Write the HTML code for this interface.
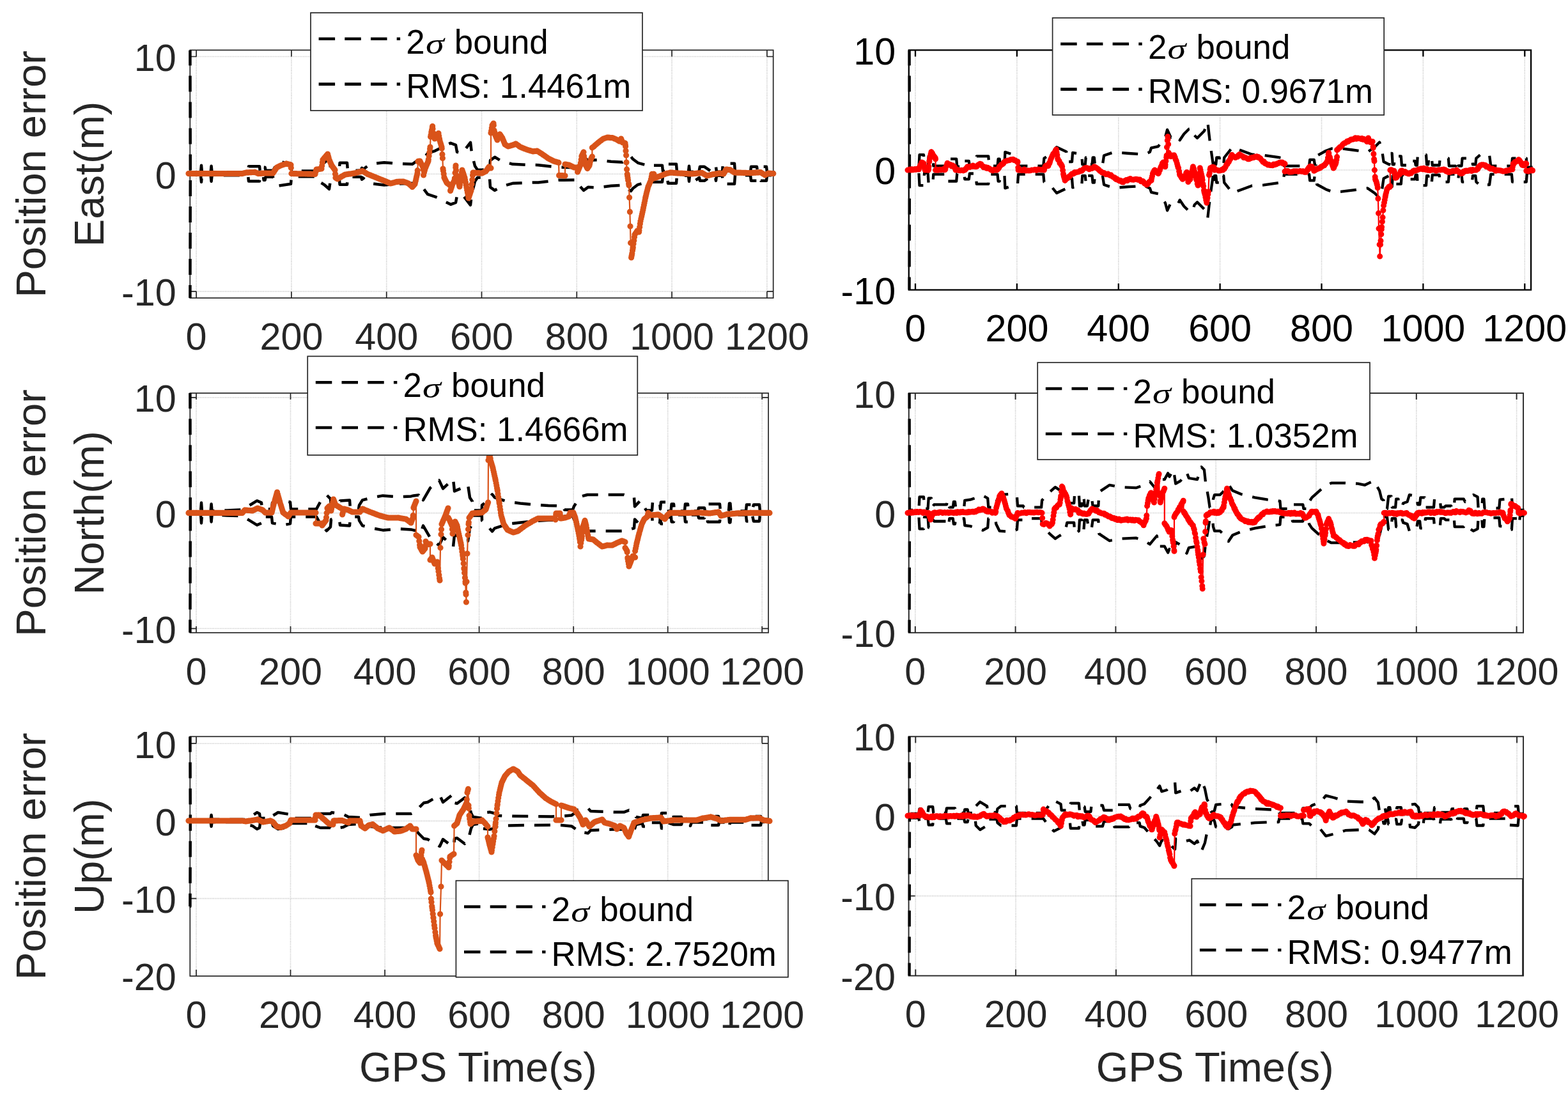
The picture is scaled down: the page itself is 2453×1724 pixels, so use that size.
<!DOCTYPE html>
<html lang="en"><head><meta charset="utf-8"><title>Position error</title>
<style>html,body{margin:0;padding:0;background:#fff}body{width:2453px;height:1724px;overflow:hidden}svg{display:block}text{font-family:"Liberation Sans",Arial,Helvetica,sans-serif}.sg{font-family:"Liberation Serif","DejaVu Serif",serif;font-style:italic}</style></head><body>
<svg width="2453" height="1724" viewBox="0 0 2453 1724">
<rect width="2453" height="1724" fill="#fff"/>
<defs>
<clipPath id="cp1"><rect x="294.3" y="78.4" width="920.4" height="387.8"/></clipPath>
<clipPath id="cp3"><rect x="294.3" y="615" width="912.8" height="374.8"/></clipPath>
<clipPath id="cp5"><rect x="294.3" y="1152.3" width="912.5" height="374.7"/></clipPath>
<clipPath id="cp2"><rect x="1418.8" y="78.4" width="981.3" height="375.1"/></clipPath>
<clipPath id="cp4"><rect x="1418.8" y="615.1" width="969.3" height="374.7"/></clipPath>
<clipPath id="cp6"><rect x="1418.6" y="1152.3" width="969.5" height="374.2"/></clipPath>
</defs>
<g id="p1">
<path d="M307.1 78.4V466.2M455.9 78.4V466.2M604.7 78.4V466.2M753.5 78.4V466.2M902.3 78.4V466.2M1051.1 78.4V466.2M1199.9 78.4V466.2M297.3 88.5H1209.7M297.3 272.2H1209.7M297.3 455.9H1209.7" stroke="#cbcbcb" stroke-width="1.6" stroke-dasharray="1.3 1.3" fill="none"/>
<rect x="297.3" y="78.4" width="912.4" height="387.8" fill="none" stroke="#262626" stroke-width="1.7"/>
<path d="M307.1 466.2v-10 M307.1 78.4v10M455.9 466.2v-10 M455.9 78.4v10M604.7 466.2v-10 M604.7 78.4v10M753.5 466.2v-10 M753.5 78.4v10M902.3 466.2v-10 M902.3 78.4v10M1051.1 466.2v-10 M1051.1 78.4v10M1199.9 466.2v-10 M1199.9 78.4v10M297.3 88.5h10 M1209.7 88.5h-10M297.3 272.2h10 M1209.7 272.2h-10M297.3 455.9h10 M1209.7 455.9h-10" stroke="#262626" stroke-width="1.7" fill="none"/>
<g clip-path="url(#cp1)" fill="none" stroke="#000" stroke-width="4.5" stroke-dasharray="25 16" stroke-linejoin="round"><polyline points="296.6,78.4 297.4,78.4 297.8,269.8 314,269.8 315,258.8 316,269.8 329.6,269.8 330.6,259.8 331.6,269.4 388,269.4 389,260.2 406,260.2 407,269.8 411.6,269.8 412.6,261.8 414.6,261.8 415.6,266.8 427,266.8 435,252.8 455,255.8 456,267.4 495,267.4 499,259.8 507,254.8 515,247.8 517,261.8 531,261.8 531.6,254.8 543,254.8 544,266.8 565,266.8 566,262.8 567,265.8 579,256.8 601,254.2 619,255.8 645,256.8 655,249.8 663,247.8 669,239.8 681,235.8 693,229.8 705,223.8 713,226.8 715,237.8 723,239.8 736,222.8 738,239.8 743,259.8 747,265.8 753.8,265.8 754,265.8 766,264.8 767,250.8 774,245.8 784,251.8 802,256.8 824,257.8 842,258.2 865,260.8 874,261.8 882,261.8 902,262.2 904,255.8 913,245.8 920,250.8 934,250.2 956,252.8 974,253.8 982,247.8 987,244.8 990,248.8 998,254.8 1020,260.8 1022,258.8 1036,258.8 1037,267.8 1044,267.8 1045,256.8 1058,256.8 1059,268.8 1077,268.8 1078,259.8 1079,268.8 1086,268.8 1087,260.8 1094,265.8 1095,260.8 1102,260.8 1112,267.8 1119,267.8 1120,260.8 1121,268.8 1130,268.8 1131,255.8 1149,255.8 1150,269.4 1174,269.4 1175,260.8 1184,260.8 1185,267.8 1190,260.8 1199,260.8 1200,269.4 1212,269.4"/><polyline stroke-dashoffset="4" points="296.6,466.2 297.4,466.2 297.8,273.8 314,273.8 315,284.8 316,273.8 329.6,273.8 330.6,283.8 331.6,274.2 388,274.2 389,283.4 406,283.4 407,273.8 411.6,273.8 412.6,281.8 414.6,281.8 415.6,276.8 427,276.8 435,290.8 455,287.8 456,276.2 495,276.2 499,283.8 507,288.8 515,295.8 517,281.8 531,281.8 531.6,288.8 543,288.8 544,276.8 565,276.8 566,280.8 567,277.8 579,286.8 601,289.4 619,287.8 645,286.8 655,293.8 663,295.8 669,303.8 681,307.8 693,313.8 705,319.8 713,316.8 715,305.8 723,303.8 736,320.8 738,303.8 743,283.8 747,277.8 753.8,277.8 754,277.8 766,278.8 767,292.8 774,297.8 784,291.8 802,286.8 824,285.8 842,285.4 865,282.8 874,281.8 882,281.8 902,281.4 904,287.8 913,297.8 920,292.8 934,293.4 956,290.8 974,289.8 982,295.8 987,298.8 990,294.8 998,288.8 1020,282.8 1022,284.8 1036,284.8 1037,275.8 1044,275.8 1045,286.8 1058,286.8 1059,274.8 1077,274.8 1078,283.8 1079,274.8 1086,274.8 1087,282.8 1094,277.8 1095,282.8 1102,282.8 1112,275.8 1119,275.8 1120,282.8 1121,274.8 1130,274.8 1131,287.8 1149,287.8 1150,274.2 1174,274.2 1175,282.8 1184,282.8 1185,275.8 1190,282.8 1199,282.8 1200,274.2 1212,274.2"/></g>
<polyline fill="none" stroke="#D95319" stroke-width="2.2" stroke-linejoin="round" points="295,271.6 379,271.6 385,270 399,269.4 404,271.6 415,271 427,271 433,262 439,259 448,256 455,258 456,271.6 493,272.4 495,265 503,264 505,250 512.6,241 515,250 519,259 524,266 525,278 528,280 540,273 555,271 567,267.6 575,272.4 589,278 599,282 611,287 621,284.4 631,284 639,287 645,292.4 649,288 653,271 654,252.4 657,252 662,262 662.6,274 665,264 670,252 673,230 673.6,214 675,206 676.6,197.6 678,210 680,217 686,208.6 688,220 691,230 692.4,247.4 693,264 695,278 699,286 704,290 704.6,298.4 708,288 711,282 713,259 714,274 719,292 723,266 727,278 733,310 737,298 740,270 753.8,271 754,271 760,268 765,261 768,263 768,208 770,196 772,193 773,204 775,212 778,219 782,210 786,216 790,226 795,229 802,227 807,225 814,230 824,234 834,237 840,236 848,241 858,248 866,252 874,254.4 874.6,274.4 884,275 884,257 890,258 898,262 903,262 903.6,269 908,258 910,244 913,238 914,248 916,258 919,263.6 922,259 924,250 926.4,245 926.4,231 928,230 936,223 944,217 950,215 958,215.6 964,218 969,221 971.6,217 974,223 978,224 978.6,229 979,236 979.6,243 980,254 980.6,265 981.6,275 982.6,282 984,290 984.6,309 985.4,331.4 986,354 986.6,380 987.6,403 988.4,399 990,389 993,367 997,361 999.6,363 1002,346 1006,328 1010,308 1014,292 1018,283 1020,272.4 1023,272.4 1023,279 1034,275 1042,271.6 1049,270 1062,271 1082,272 1098,270.4 1106,275 1114,273 1126,271 1132,272 1136,265 1142,265.6 1149,270 1174,270.6 1190,269.6 1197,274 1202,271 1209.8,271.6"/>
<path fill="none" stroke="#D95319" stroke-width="9.2" stroke-linecap="round" d="M295 271.6h0M296.9 271.6h0M299.1 271.6h0M301.3 271.6h0M303.6 271.6h0M305.8 271.6h0M308 271.6h0M310.2 271.6h0M312.5 271.6h0M314.7 271.6h0M316.9 271.6h0M319.2 271.6h0M321.4 271.6h0M323.6 271.6h0M325.9 271.6h0M328.1 271.6h0M330.3 271.6h0M332.6 271.6h0M334.8 271.6h0M337 271.6h0M339.3 271.6h0M341.5 271.6h0M343.7 271.6h0M346 271.6h0M348.2 271.6h0M350.4 271.6h0M352.7 271.6h0M354.9 271.6h0M357.1 271.6h0M359.4 271.6h0M361.6 271.6h0M363.8 271.6h0M366 271.6h0M368.3 271.6h0M370.5 271.6h0M372.7 271.6h0M375 271.6h0M377.2 271.6h0M379 271.6h0M380.9 271.1h0M382.4 270.7h0M383.9 270.3h0M385 270h0M386.9 269.9h0M389.1 269.8h0M391.3 269.7h0M393.6 269.6h0M395.8 269.5h0M398 269.4h0M399 269.4h0M400.3 270h0M401.8 270.6h0M403.2 271.3h0M404 271.6h0M406.2 271.5h0M408.5 271.4h0M410.7 271.2h0M412.9 271.1h0M415 271h0M416.6 271h0M418.9 271h0M421.1 271h0M423.3 271h0M425.6 271h0M427 271h0M427.8 269.8h0M428.5 268.7h0M429.3 267.6h0M430 266.5h0M430.8 265.3h0M431.5 264.2h0M432.3 263.1h0M433 262h0M434.5 261.3h0M436 260.5h0M437.5 259.8h0M439 259h0M439 259h0M440.4 258.5h0M441.9 258h0M443.4 257.5h0M444.9 257h0M446.4 256.5h0M447.9 256h0M448 256h0M449.4 256.4h0M450.9 256.8h0M452.4 257.2h0M453.8 257.7h0M455 258h0M455.3 262.5h0M456 271.6h0M458.3 271.6h0M460.5 271.7h0M462.8 271.7h0M465 271.8h0M467.2 271.8h0M469.5 271.9h0M471.7 271.9h0M473.9 272h0M476.2 272h0M478.4 272.1h0M480.6 272.1h0M482.9 272.2h0M485.1 272.2h0M487.3 272.3h0M489.6 272.3h0M491.8 272.4h0M493 272.4h0M494 268.6h0M494.8 265.9h0M495 265h0M497 264.8h0M498.5 264.6h0M500 264.4h0M501.5 264.2h0M502.9 264h0M503 264h0M503.7 259.2h0M504.4 254h0M505 250h0M505.9 248.9h0M506.7 248h0M507.4 247.1h0M508.2 246.3h0M508.9 245.4h0M509.6 244.5h0M510.4 243.6h0M511.1 242.7h0M511.9 241.9h0M512.6 241h0M513.4 243.9h0M514.1 246.6h0M514.8 249.4h0M515 250h0M515.6 251.3h0M516.3 253h0M517.1 254.7h0M517.8 256.4h0M518.6 258h0M519 259h0M520.1 260.5h0M520.8 261.5h0M521.5 262.6h0M522.3 263.6h0M523 264.6h0M523.8 265.7h0M524 266h0M524.5 272.2h0M525 278h0M526 278.7h0M527.5 279.7h0M528 280h0M529.7 279h0M531.2 278.1h0M532.7 277.3h0M534.2 276.4h0M535.7 275.5h0M537.2 274.7h0M538.7 273.8h0M540 273h0M541.6 272.8h0M543.1 272.6h0M544.6 272.4h0M546.1 272.2h0M547.6 272h0M549.1 271.8h0M550.6 271.6h0M552 271.4h0M553.5 271.2h0M555 271h0M556.5 270.6h0M558 270.1h0M559.5 269.7h0M561 269.3h0M562.5 268.9h0M564 268.5h0M565.4 268h0M566.9 267.6h0M567 267.6h0M568.4 268.4h0M569.9 269.3h0M571.4 270.2h0M572.9 271.1h0M574.4 272h0M575 272.4h0M576.6 273h0M578.1 273.6h0M579.6 274.2h0M581.1 274.8h0M582.6 275.4h0M584 276h0M585.5 276.6h0M587 277.2h0M588.5 277.8h0M589 278h0M590.7 278.7h0M592.2 279.3h0M593.7 279.9h0M595.2 280.5h0M596.7 281.1h0M598.2 281.7h0M599 282h0M600.4 282.6h0M601.9 283.2h0M603.4 283.8h0M604.9 284.4h0M606.4 285.1h0M607.8 285.7h0M609.3 286.3h0M610.8 286.9h0M611 287h0M612.3 286.7h0M613.8 286.3h0M615.3 285.9h0M616.8 285.5h0M618.3 285.1h0M619.8 284.7h0M621 284.4h0M622.7 284.3h0M625 284.2h0M627.2 284.2h0M629.4 284.1h0M631 284h0M632.4 284.5h0M633.9 285.1h0M635.4 285.6h0M636.9 286.2h0M638.4 286.8h0M639 287h0M640.6 288.4h0M642.1 289.8h0M643.6 291.1h0M645 292.4h0M645.8 291.5h0M647.3 289.9h0M648.8 288.3h0M649 288h0M649.5 285.8h0M650.3 282.7h0M651 279.5h0M651.7 276.3h0M652.5 273.2h0M653 271h0M653.2 266.7h0M654 252.8h0M654 252.4h0M655.5 252.2h0M657 252h0M657 252h0M657.7 253.4h0M658.4 254.9h0M659.2 256.4h0M659.9 257.9h0M660.7 259.3h0M661.4 260.8h0M662 262h0M662.2 265.2h0M662.6 274h0M663.6 269.6h0M664.4 266.5h0M665 264h0M665.9 261.9h0M666.6 260.1h0M667.4 258.3h0M668.1 256.5h0M668.9 254.7h0M669.6 253h0M670 252h0M670.3 249.5h0M671.1 244h0M671.8 238.6h0M672.6 233.1h0M673 230h0M673.6 214h0M674.1 211.3h0M674.8 207.1h0M675 206h0M675.6 203.1h0M676.3 199.2h0M676.6 197.6h0M677 201.5h0M677.8 208.1h0M678 210h0M678.5 211.8h0M679.3 214.5h0M680 217h0M680.8 215.9h0M681.5 214.9h0M682.2 213.9h0M683 212.8h0M683.7 211.8h0M684.5 210.7h0M685.2 209.7h0M686 208.6h0M686 208.6h0M686.7 212.7h0M687.5 216.9h0M688 220h0M688.9 223.1h0M689.7 225.6h0M690.4 228.1h0M691 230h0M691.2 232.2h0M691.9 241.4h0M692.4 247.4h0M693 264h0M693.4 266.9h0M694.2 272.1h0M694.9 277.3h0M695 278h0M695.6 279.3h0M696.4 280.8h0M697.1 282.3h0M697.9 283.7h0M698.6 285.2h0M699 286h0M700.1 286.9h0M701.6 288.1h0M703.1 289.3h0M704 290h0M704.6 298h0M704.6 298.4h0M705.3 296.2h0M706.1 293.9h0M706.8 291.7h0M707.5 289.4h0M708 288h0M709 285.9h0M709.8 284.4h0M710.5 283h0M711 282h0M711.3 279h0M712 270.4h0M712.8 261.9h0M713 259h0M713.5 266.4h0M714 274h0M715 277.5h0M715.7 280.2h0M716.5 282.9h0M717.2 285.6h0M718 288.3h0M718.7 290.9h0M719 292h0M719.4 289.1h0M720.2 284.3h0M720.9 279.4h0M721.7 274.6h0M722.4 269.7h0M723 266h0M723.9 268.7h0M724.7 271h0M725.4 273.2h0M726.1 275.4h0M726.9 277.7h0M727 278h0M727.6 281.4h0M728.4 285.3h0M729.1 289.3h0M729.9 293.3h0M730.6 297.2h0M731.4 301.2h0M732.1 305.2h0M732.8 309.1h0M733 310h0M733.6 308.2h0M734.3 306h0M735.1 303.8h0M735.8 301.6h0M736.6 299.3h0M737 298h0M737.3 295.2h0M738 288.2h0M738.8 281.3h0M739.5 274.3h0M740 270h0M741.8 270.1h0M744 270.3h0M746.2 270.5h0M748.5 270.6h0M750.7 270.8h0M752.9 270.9h0M753.8 271h0M754 271h0M755.2 270.4h0M756.6 269.7h0M758.1 268.9h0M759.6 268.2h0M760 268h0M761.1 266.4h0M761.9 265.4h0M762.6 264.4h0M763.3 263.3h0M764.1 262.3h0M764.8 261.2h0M765 261h0M766.3 261.9h0M767.8 262.9h0M768 263h0M768 208h0M768.6 204.7h0M769.3 200.2h0M770 196h0M770.8 194.8h0M771.5 193.7h0M772 193h0M772.3 196h0M773 204h0M773.8 207h0M774.5 210h0M775 212h0M776 214.3h0M776.7 216.1h0M777.5 217.8h0M778 219h0M779 216.8h0M779.7 215.1h0M780.5 213.5h0M781.2 211.8h0M781.9 210.1h0M782 210h0M782.7 211h0M783.4 212.1h0M784.2 213.3h0M784.9 214.4h0M785.7 215.5h0M786 216h0M787.2 218.9h0M787.9 220.7h0M788.6 222.6h0M789.4 224.5h0M790 226h0M791.6 227h0M793.1 227.9h0M794.6 228.8h0M795 229h0M796.8 228.5h0M798.3 228.1h0M799.8 227.6h0M801.3 227.2h0M802 227h0M803.5 226.4h0M805 225.8h0M806.5 225.2h0M807 225h0M808 225.7h0M809.5 226.8h0M811 227.8h0M812.4 228.9h0M813.9 230h0M814 230h0M815.4 230.6h0M816.9 231.2h0M818.4 231.8h0M819.9 232.4h0M821.4 233h0M822.9 233.5h0M824 234h0M825.8 234.6h0M827.3 235h0M828.8 235.4h0M830.3 235.9h0M831.8 236.3h0M833.3 236.8h0M834 237h0M835.5 236.7h0M837 236.5h0M838.5 236.3h0M840 236h0M840 236h0M841.5 236.9h0M843 237.8h0M844.4 238.8h0M845.9 239.7h0M847.4 240.6h0M848 241h0M849.6 242.2h0M851.1 243.2h0M852.6 244.2h0M854.1 245.3h0M855.6 246.3h0M857.1 247.4h0M858 248h0M859.3 248.7h0M860.8 249.4h0M862.3 250.1h0M863.8 250.9h0M865.3 251.6h0M866 252h0M867.5 252.5h0M869 252.9h0M870.5 253.3h0M872 253.8h0M873.5 254.2h0M874 254.4h0M874.6 274.4h0M876.4 274.5h0M878.7 274.7h0M880.9 274.8h0M883.1 274.9h0M884 275h0M884 257h0M886.1 257.4h0M887.6 257.6h0M889.1 257.8h0M890 258h0M891.3 258.7h0M892.8 259.4h0M894.3 260.1h0M895.8 260.9h0M897.3 261.6h0M898 262h0M900.2 262h0M902.5 262h0M903 262h0M903.2 264.5h0M903.6 269h0M904.7 266.2h0M905.4 264.4h0M906.2 262.5h0M906.9 260.7h0M907.7 258.8h0M908 258h0M908.4 255h0M909.2 249.8h0M909.9 244.6h0M910 244h0M910.7 242.7h0M911.4 241.2h0M912.1 239.7h0M912.9 238.2h0M913 238h0M913.6 244.3h0M914 248h0M914.4 249.9h0M915.1 253.6h0M915.9 257.3h0M916 258h0M916.6 259.1h0M917.4 260.5h0M918.1 261.9h0M918.8 263.3h0M919 263.6h0M920.3 261.6h0M921.1 260.4h0M921.8 259.3h0M922 259h0M922.6 256.5h0M923.3 253.1h0M924 250h0M924.8 248.3h0M925.5 246.8h0M926.3 245.2h0M926.4 245h0M926.4 231h0M927.8 230.1h0M928 230h0M929.3 228.9h0M930.7 227.6h0M932.2 226.3h0M933.7 225h0M935.2 223.7h0M936 223h0M937.4 221.9h0M938.9 220.8h0M940.4 219.7h0M941.9 218.6h0M943.4 217.5h0M944 217h0M945.6 216.5h0M947.1 216h0M948.6 215.5h0M950 215h0M951.6 215.1h0M953.8 215.3h0M956 215.5h0M958 215.6h0M959.8 216.3h0M961.2 216.9h0M962.7 217.5h0M964 218h0M965.7 219h0M967.2 219.9h0M968.7 220.8h0M969 221h0M970.2 219.2h0M970.9 218h0M971.6 217h0M972.4 219h0M973.2 220.9h0M973.9 222.7h0M974 223h0M975.4 223.3h0M976.9 223.7h0M978 224h0M978.4 227h0M978.6 229h0M979 236h0M979.6 243h0M980 254h0M980.6 264.9h0M980.6 265h0M981.3 272.4h0M981.6 275h0M982.1 278.4h0M982.6 282h0M983.6 287.5h0M984 290h0M984.6 309h0M985.4 331.4h0M986 354h0M986.6 380h0M987.6 403h0M988 400.8h0M988.4 399h0M988.8 396.6h0M989.5 392h0M990 389h0M990.3 387.1h0M991 381.6h0M991.8 376.2h0M992.5 370.7h0M993 367h0M994 365.5h0M994.7 364.4h0M995.5 363.3h0M996.2 362.2h0M997 361.1h0M997 361h0M998.4 362.1h0M999.6 363h0M999.9 360.6h0M1000.7 355.3h0M1001.4 350.1h0M1002 346h0M1002.9 341.9h0M1003.7 338.5h0M1004.4 335.2h0M1005.1 331.9h0M1005.9 328.5h0M1006 328h0M1006.6 324.8h0M1007.4 321.1h0M1008.1 317.4h0M1008.9 313.7h0M1009.6 310h0M1010 308h0M1010.4 306.6h0M1011.1 303.6h0M1011.8 300.6h0M1012.6 297.7h0M1013.3 294.7h0M1014 292h0M1014.8 290.2h0M1015.6 288.5h0M1016.3 286.8h0M1017 285.1h0M1017.8 283.5h0M1018 283h0M1018.5 280.2h0M1019.3 276.2h0M1020 272.4h0M1022.3 272.4h0M1023 272.4h0M1023 279h0M1024.5 278.5h0M1026 277.9h0M1027.5 277.4h0M1029 276.8h0M1030.4 276.3h0M1031.9 275.8h0M1033.4 275.2h0M1034 275h0M1035.6 274.3h0M1037.1 273.7h0M1038.6 273h0M1040.1 272.4h0M1041.6 271.8h0M1042 271.6h0M1043.8 271.2h0M1045.3 270.8h0M1046.8 270.5h0M1048.3 270.2h0M1049 270h0M1050.5 270.1h0M1052 270.2h0M1053.5 270.3h0M1055 270.5h0M1056.5 270.6h0M1058 270.7h0M1059.5 270.8h0M1060.9 270.9h0M1062 271h0M1063.9 271.1h0M1066.2 271.2h0M1068.4 271.3h0M1070.6 271.4h0M1072.8 271.5h0M1075.1 271.7h0M1077.3 271.8h0M1079.5 271.9h0M1081.8 272h0M1082 272h0M1084 271.8h0M1085.5 271.7h0M1087 271.5h0M1088.5 271.4h0M1090 271.2h0M1091.4 271.1h0M1092.9 270.9h0M1094.4 270.8h0M1095.9 270.6h0M1097.4 270.5h0M1098 270.4h0M1099.6 271.3h0M1101.1 272.2h0M1102.6 273h0M1104.1 273.9h0M1105.6 274.8h0M1106 275h0M1107.8 274.5h0M1109.3 274.2h0M1110.8 273.8h0M1112.3 273.4h0M1113.8 273.1h0M1114 273h0M1116 272.7h0M1117.5 272.4h0M1119 272.2h0M1120.5 271.9h0M1122 271.7h0M1123.4 271.4h0M1124.9 271.2h0M1126 271h0M1127.9 271.3h0M1129.4 271.6h0M1130.9 271.8h0M1132 272h0M1133.1 270.1h0M1133.9 268.8h0M1134.6 267.4h0M1135.3 266.1h0M1136 265h0M1137.6 265.2h0M1139.1 265.3h0M1140.6 265.5h0M1142 265.6h0M1143.5 266.6h0M1145 267.5h0M1146.5 268.4h0M1148 269.4h0M1149 270h0M1151 270h0M1153.2 270.1h0M1155.4 270.2h0M1157.7 270.2h0M1159.9 270.3h0M1162.1 270.3h0M1164.4 270.4h0M1166.6 270.4h0M1168.8 270.5h0M1171.1 270.5h0M1173.3 270.6h0M1174 270.6h0M1175.5 270.5h0M1177.8 270.4h0M1180 270.2h0M1182.2 270.1h0M1184.4 269.9h0M1186.7 269.8h0M1188.9 269.7h0M1190 269.6h0M1191.1 270.3h0M1192.6 271.3h0M1194.1 272.2h0M1195.6 273.1h0M1197 274h0M1198.6 273h0M1200.1 272.2h0M1201.6 271.3h0M1202 271h0M1203.8 271.1h0M1205.3 271.3h0M1206.8 271.4h0M1208.3 271.5h0M1209.7 271.6h0M1209.8 271.6h0"/>
<g font-size="59.3" fill="#262626">
<text x="307.1" y="546.9" text-anchor="middle">0</text>
<text x="455.9" y="546.9" text-anchor="middle">200</text>
<text x="604.7" y="546.9" text-anchor="middle">400</text>
<text x="753.5" y="546.9" text-anchor="middle">600</text>
<text x="902.3" y="546.9" text-anchor="middle">800</text>
<text x="1051.1" y="546.9" text-anchor="middle">1000</text>
<text x="1199.9" y="546.9" text-anchor="middle">1200</text>
<text x="275.8" y="110.8" text-anchor="end">10</text>
<text x="275.8" y="294.5" text-anchor="end">0</text>
<text x="275.8" y="478.2" text-anchor="end">-10</text>
</g>
<text transform="translate(71.4 272.3) rotate(-90)" font-size="65" fill="#262626" text-anchor="middle">Position error</text>
<text transform="translate(162.2 272.3) rotate(-90)" font-size="65" fill="#262626" text-anchor="middle">East(m)</text>
<rect x="486" y="20" width="519" height="153" fill="#fff" stroke="#262626" stroke-width="1.7"/>
<path d="M498.6 60.8h127.5" stroke="#000" stroke-width="4.6" stroke-dasharray="25.5 15.2" fill="none"/>
<text x="635.3" y="83.6" font-size="52.8" fill="#000">2<tspan class="sg" font-size="46" dx="1.2" dy="0.6" textLength="28.8" lengthAdjust="spacingAndGlyphs">σ</tspan><tspan dx="1.5" dy="-0.6"> bound</tspan></text>
<path d="M498.6 131.6h127.5" stroke="#000" stroke-width="4.6" stroke-dasharray="25.5 15.2" fill="none"/>
<text x="635.2" y="153" font-size="52.8" fill="#000">RMS: 1.4461m</text>
</g>
<g id="p3">
<path d="M307 615V989.8M454.5 615V989.8M602.1 615V989.8M749.6 615V989.8M897.2 615V989.8M1044.7 615V989.8M1192.2 615V989.8M297.3 621.9H1202.1M297.3 802.6H1202.1M297.3 983.3H1202.1" stroke="#cbcbcb" stroke-width="1.6" stroke-dasharray="1.3 1.3" fill="none"/>
<rect x="297.3" y="615" width="904.8" height="374.8" fill="none" stroke="#262626" stroke-width="1.7"/>
<path d="M307 989.8v-10 M307 615v10M454.5 989.8v-10 M454.5 615v10M602.1 989.8v-10 M602.1 615v10M749.6 989.8v-10 M749.6 615v10M897.2 989.8v-10 M897.2 615v10M1044.7 989.8v-10 M1044.7 615v10M1192.2 989.8v-10 M1192.2 615v10M297.3 621.9h10 M1202.1 621.9h-10M297.3 802.6h10 M1202.1 802.6h-10M297.3 983.3h10 M1202.1 983.3h-10" stroke="#262626" stroke-width="1.7" fill="none"/>
<g clip-path="url(#cp3)" fill="none" stroke="#000" stroke-width="4.5" stroke-dasharray="25 16" stroke-linejoin="round"><polyline points="296.6,615 297.4,615 297.8,800.4 314,800.4 315,786.4 316,800.4 329.6,800.4 330.6,788.4 331.6,799.4 355,798.4 379,797.4 389,791.4 402,783.4 409,786.4 410,796.4 425,796.4 426,786.4 443,783.4 454,785.4 455,796.4 469,796.4 495,796.4 501,785.4 511,774.4 517,780.4 518,792.4 531,792.4 532,783.4 547,782.4 548,796.4 561,796.4 562,790.4 567,782.4 583,778.4 599,775.4 623,777.4 643,776.4 647,775.4 655,774.4 657,780.4 660,776.4 662,782.4 673,763.4 687,751.4 693,764.4 709,749.4 711,768.4 725,762.4 732,758.4 735,778.4 739,784.4 739.4,798.4 753.8,798.4 754,790.4 758,787.4 770,773.4 774,778.4 794,784.8 814,787.4 834,789.4 858,791 882,791.4 883,797.4 896,797.4 898,792 908,777 919,774 976,774 984,776.4 992,778.4 993,792.4 1002,783 1011,798.4 1020,798.4 1021,785.4 1032,785.4 1033,796.4 1034,785.4 1045,785.4 1046,799.4 1049.6,799.4 1050.6,788.4 1054,788.4 1055,799.4 1071,799.4 1072,788.4 1076,788.4 1077,799.4 1092,799.4 1093,794.4 1102,794.4 1103,799.4 1106,799.4 1107,788.4 1126,788.4 1127,799.4 1140,799.4 1141,787.4 1142.4,787.4 1143.4,799.4 1167,799.4 1168,789.4 1176,789.4 1177,798.4 1179,789.4 1188,789.4 1189,800 1204,800"/><polyline stroke-dashoffset="4" points="296.6,989.8 297.4,989.8 297.8,804.4 314,804.4 315,818.4 316,804.4 329.6,804.4 330.6,816.4 331.6,805.4 355,806.4 379,807.4 389,813.4 402,821.4 409,818.4 410,808.4 425,808.4 426,818.4 443,821.4 454,819.4 455,808.4 469,808.4 495,808.4 501,819.4 511,830.4 517,824.4 518,812.4 531,812.4 532,821.4 547,822.4 548,808.4 561,808.4 562,814.4 567,822.4 583,826.4 599,829.4 623,827.4 643,828.4 647,829.4 655,830.4 657,824.4 660,828.4 662,822.4 673,841.4 687,853.4 693,840.4 709,855.4 711,836.4 725,842.4 732,846.4 735,826.4 739,820.4 739.4,806.4 753.8,806.4 754,814.4 758,817.4 770,831.4 774,826.4 794,820 814,817.4 834,815.4 858,813.8 882,813.4 883,807.4 896,807.4 898,812.8 908,827.8 919,830.8 976,830.8 984,828.4 992,826.4 993,812.4 1002,821.8 1011,806.4 1020,806.4 1021,819.4 1032,819.4 1033,808.4 1034,819.4 1045,819.4 1046,805.4 1049.6,805.4 1050.6,816.4 1054,816.4 1055,805.4 1071,805.4 1072,816.4 1076,816.4 1077,805.4 1092,805.4 1093,810.4 1102,810.4 1103,805.4 1106,805.4 1107,816.4 1126,816.4 1127,805.4 1140,805.4 1141,817.4 1142.4,817.4 1143.4,805.4 1167,805.4 1168,815.4 1176,815.4 1177,806.4 1179,815.4 1188,815.4 1189,804.8 1204,804.8"/></g>
<polyline fill="none" stroke="#D95319" stroke-width="2.2" stroke-linejoin="round" points="295,802.4 379,802.4 383,798 395,799 403,795 411,798 415,802 425,802 429,786 433.6,770 438,786 443,802 451,808 455,802 494,802 494,819 503,819 504,822 510,814 512,795 515,792 518,799 521.6,781 525,790 535,796 535.6,805 538,796 545,798 551,801 563,801 567,796 579,801 595,807 607,810 623,810 635,812 643,818 646,810 647,794 651,784 651,837 655,840 657,856 661,863 665,858 666,847 669,852 673,851 673,876 676,872 680,882 684,879 686,894 688,908 689,857 690,836 691,820 697,806 701,795 701.4,810 703,813 707,822 708,835 712,816 715,822 717,832 721,850 724,870 726,890 728,910 729,930 729.4,942 730,910 731,866 732,837 733,820 734,810 739,803 753.8,802 754,802 760,797 763.6,786 764,720 766,710 768,722 771,732 775,750 778,766 781,786 784,806 788,820 794,829 803,833 810,831 822,822 834,815 842,811 866,811 869,813 870,803 876,803 877,811 884,810 890,808 892,802 897,802 900,810 904,828 907,844 908,855 910,842 912,824 915,814.4 917,822 919,834 921,843 928,844 934,849 942,855 950,853 958,853 966,849 973,846 978,848 978,857 981,862 982,874 984,886 987,878 990,870 993.6,872 993.6,862 996,850 1000,834 1004,820 1008,812 1013,808 1014,802.4 1018,806 1030,805 1040,812 1044,806 1048,802.4 1074,802.4 1094,802 1110,803 1124,801 1128,807 1138,804.4 1154,803 1174,802.4 1204,802.4"/>
<path fill="none" stroke="#D95319" stroke-width="9.2" stroke-linecap="round" d="M295 802.4h0M297.3 802.4h0M299.5 802.4h0M301.7 802.4h0M303.9 802.4h0M306.1 802.4h0M308.4 802.4h0M310.6 802.4h0M312.8 802.4h0M315 802.4h0M317.2 802.4h0M319.4 802.4h0M321.6 802.4h0M323.9 802.4h0M326.1 802.4h0M328.3 802.4h0M330.5 802.4h0M332.7 802.4h0M334.9 802.4h0M337.1 802.4h0M339.3 802.4h0M341.6 802.4h0M343.8 802.4h0M346 802.4h0M348.2 802.4h0M350.4 802.4h0M352.6 802.4h0M354.8 802.4h0M357 802.4h0M359.3 802.4h0M361.5 802.4h0M363.7 802.4h0M365.9 802.4h0M368.1 802.4h0M370.3 802.4h0M372.5 802.4h0M374.8 802.4h0M377 802.4h0M379 802.4h0M379.9 801.4h0M381.4 799.8h0M382.9 798.1h0M383 798h0M385.1 798.2h0M387.3 798.4h0M389.5 798.5h0M391.7 798.7h0M393.9 798.9h0M395 799h0M396.1 798.4h0M397.6 797.7h0M399.1 797h0M400.6 796.2h0M402 795.5h0M403 795h0M404.3 795.5h0M405.7 796h0M407.2 796.6h0M408.7 797.1h0M410.2 797.7h0M411 798h0M412.4 799.4h0M413.8 800.8h0M415 802h0M416.8 802h0M419 802h0M421.2 802h0M423.4 802h0M425 802h0M425.7 799.4h0M426.4 796.4h0M427.1 793.5h0M427.9 790.5h0M428.6 787.6h0M429 786h0M430.1 782.2h0M430.8 779.7h0M431.6 777.1h0M432.3 774.5h0M433 772h0M433.6 770h0M434.5 773.3h0M435.2 776h0M436 778.7h0M436.7 781.3h0M437.5 784h0M438 786h0M438.9 789h0M439.7 791.3h0M440.4 793.7h0M441.1 796.1h0M441.9 798.4h0M442.6 800.8h0M443 802h0M444.1 802.8h0M445.6 803.9h0M447 805h0M448.5 806.1h0M450 807.2h0M451 808h0M452.2 806.2h0M452.9 805.1h0M453.7 804h0M454.4 802.9h0M455 802h0M456.6 802h0M458.8 802h0M461.1 802h0M463.3 802h0M465.5 802h0M467.7 802h0M469.9 802h0M472.1 802h0M474.3 802h0M476.6 802h0M478.8 802h0M481 802h0M483.2 802h0M485.4 802h0M487.6 802h0M489.8 802h0M492 802h0M494 802h0M494 819h0M495.7 819h0M497.9 819h0M500.2 819h0M502.4 819h0M503 819h0M503.8 821.5h0M504 822h0M505.3 820.2h0M506.1 819.3h0M506.8 818.3h0M507.5 817.3h0M508.3 816.3h0M509 815.3h0M509.8 814.3h0M510 814h0M510.5 809.4h0M511.2 802.4h0M512 795.3h0M512 795h0M513.4 793.6h0M514.9 792.1h0M515 792h0M515.7 793.5h0M516.4 795.2h0M517.1 797h0M517.9 798.7h0M518 799h0M518.6 796h0M519.3 792.3h0M520.1 788.6h0M520.8 784.9h0M521.6 781.2h0M521.6 781h0M522.3 782.8h0M523 784.8h0M523.8 786.7h0M524.5 788.7h0M525 790h0M526.7 791h0M528.2 791.9h0M529.7 792.8h0M531.1 793.7h0M532.6 794.6h0M534.1 795.5h0M535 796h0M535.6 804.6h0M535.6 805h0M536.3 802.3h0M537 799.6h0M537.8 796.8h0M538 796h0M539.3 796.4h0M540.7 796.8h0M542.2 797.2h0M543.7 797.6h0M545 798h0M546.6 798.8h0M548.1 799.6h0M549.6 800.3h0M551 801h0M553.3 801h0M555.5 801h0M557.7 801h0M559.9 801h0M562.1 801h0M563 801h0M564.3 799.3h0M565.1 798.4h0M565.8 797.5h0M566.6 796.6h0M567 796h0M568.8 796.7h0M570.2 797.4h0M571.7 798h0M573.2 798.6h0M574.7 799.2h0M576.1 799.8h0M577.6 800.4h0M579 801h0M580.6 801.6h0M582 802.1h0M583.5 802.7h0M585 803.2h0M586.5 803.8h0M587.9 804.4h0M589.4 804.9h0M590.9 805.5h0M592.4 806h0M593.8 806.6h0M595 807h0M596.8 807.4h0M598.3 807.8h0M599.8 808.2h0M601.2 808.6h0M602.7 808.9h0M604.2 809.3h0M605.7 809.7h0M607 810h0M608.6 810h0M610.8 810h0M613 810h0M615.2 810h0M617.5 810h0M619.7 810h0M621.9 810h0M623 810h0M624.8 810.3h0M626.3 810.6h0M627.8 810.8h0M629.3 811h0M630.7 811.3h0M632.2 811.5h0M633.7 811.8h0M635 812h0M636.6 813.2h0M638.1 814.3h0M639.6 815.4h0M641.1 816.5h0M642.5 817.7h0M643 818h0M644 815.3h0M644.7 813.3h0M645.5 811.4h0M646 810h0M646.2 806.4h0M647 794.6h0M647 794h0M647.7 792.2h0M648.4 790.4h0M649.2 788.6h0M649.9 786.7h0M650.7 784.9h0M651 784h0M651 837h0M652.1 837.8h0M653.6 839h0M655 840h0M655.8 846.5h0M656.6 852.4h0M657 856h0M658 857.8h0M658.8 859.1h0M659.5 860.4h0M660.2 861.7h0M661 863h0M661 863h0M661.7 862.1h0M662.5 861.2h0M663.2 860.3h0M663.9 859.3h0M664.7 858.4h0M665 858h0M665.4 853.5h0M666 847h0M666.9 848.5h0M667.6 849.7h0M668.4 850.9h0M669 852h0M670.6 851.6h0M672 851.2h0M673 851h0M673 876h0M674.3 874.3h0M675 873.3h0M675.7 872.4h0M676 872h0M676.5 873.2h0M677.2 875h0M677.9 876.9h0M678.7 878.7h0M679.4 880.6h0M680 882h0M681.6 880.8h0M683.1 879.7h0M684 879h0M684.6 883.4h0M685.3 888.9h0M686 894h0M686.8 899.6h0M687.5 904.8h0M688 908h0M689 857h0M690 836h0M690.5 828.2h0M691 820h0M692 817.8h0M692.7 816h0M693.4 814.3h0M694.2 812.6h0M694.9 810.9h0M695.7 809.1h0M696.4 807.4h0M697 806h0M697.9 803.6h0M698.6 801.6h0M699.3 799.6h0M700.1 797.5h0M700.8 795.5h0M701 795h0M701.4 810h0M702.3 811.7h0M703 813h0M703.8 814.7h0M704.5 816.4h0M705.2 818h0M706 819.7h0M706.7 821.4h0M707 822h0M707.5 827.9h0M708 835h0M708.9 830.6h0M709.7 827.1h0M710.4 823.6h0M711.1 820.1h0M711.9 816.6h0M712 816h0M712.6 817.2h0M713.4 818.7h0M714.1 820.2h0M714.8 821.7h0M715 822h0M715.6 824.8h0M716.3 828.5h0M717 832h0M717.8 835.5h0M718.5 838.8h0M719.3 842.2h0M720 845.5h0M720.7 848.8h0M721 850h0M721.5 853.1h0M722.2 858.1h0M722.9 863h0M723.7 867.9h0M724 870h0M724.4 874.2h0M725.2 881.6h0M725.9 889h0M726 890h0M726.6 896.3h0M727.4 903.7h0M728 910h0M728.1 912.2h0M728.8 927h0M729 930h0M729.4 942h0M730 910h0M731 866h0M732 837h0M732.5 827.9h0M733 820h0M733.3 817.3h0M734 810h0M734.7 809h0M735.5 807.9h0M736.2 806.9h0M737 805.9h0M737.7 804.8h0M738.4 803.8h0M739 803h0M740.7 802.9h0M742.9 802.7h0M745.1 802.6h0M747.3 802.4h0M749.5 802.3h0M751.7 802.1h0M753.8 802h0M754 802h0M755.4 800.8h0M756.9 799.6h0M758.4 798.4h0M759.8 797.1h0M760 797h0M760.6 795.3h0M761.3 793h0M762 790.8h0M762.8 788.5h0M763.5 786.2h0M763.6 786h0M764 720h0M765 715h0M765.7 711.3h0M766 710h0M766.5 712.8h0M767.2 717.2h0M767.9 721.7h0M768 722h0M768.7 724.3h0M769.4 726.7h0M770.2 729.2h0M770.9 731.7h0M771 732h0M771.6 734.9h0M772.4 738.2h0M773.1 741.5h0M773.8 744.8h0M774.6 748.1h0M775 750h0M775.3 751.7h0M776.1 755.7h0M776.8 759.6h0M777.5 763.5h0M778 766h0M778.3 767.8h0M779 772.7h0M779.7 777.7h0M780.5 782.6h0M781 786h0M781.2 787.5h0M782 792.4h0M782.7 797.3h0M783.4 802.2h0M784 806h0M784.9 809.2h0M785.7 811.8h0M786.4 814.4h0M787.1 816.9h0M787.9 819.5h0M788 820h0M789.3 822h0M790.1 823.1h0M790.8 824.2h0M791.6 825.3h0M792.3 826.4h0M793 827.5h0M793.8 828.6h0M794 829h0M795.2 829.6h0M796.7 830.2h0M798.2 830.9h0M799.7 831.5h0M801.1 832.2h0M802.6 832.8h0M803 833h0M804.8 832.5h0M806.3 832.1h0M807.8 831.6h0M809.3 831.2h0M810 831h0M811.5 829.9h0M812.9 828.8h0M814.4 827.7h0M815.9 826.6h0M817.4 825.5h0M818.8 824.4h0M820.3 823.3h0M821.8 822.2h0M822 822h0M823.3 821.3h0M824.7 820.4h0M826.2 819.5h0M827.7 818.7h0M829.2 817.8h0M830.7 817h0M832.1 816.1h0M833.6 815.2h0M834 815h0M835.1 814.5h0M836.6 813.7h0M838 813h0M839.5 812.2h0M841 811.5h0M842 811h0M843.9 811h0M846.1 811h0M848.4 811h0M850.6 811h0M852.8 811h0M855 811h0M857.2 811h0M859.4 811h0M861.6 811h0M863.8 811h0M866 811h0M867.5 812h0M869 813h0M869.7 805.5h0M870 803h0M872 803h0M874.2 803h0M876 803h0M876.4 806.1h0M877 811h0M878.6 810.8h0M880.1 810.6h0M881.6 810.3h0M883 810.1h0M884 810h0M885.2 809.6h0M886.7 809.1h0M888.2 808.6h0M889.7 808.1h0M890 808h0M890.4 806.8h0M891.1 804.6h0M891.9 802.4h0M892 802h0M894.1 802h0M896.3 802h0M897 802h0M897.8 804.1h0M898.5 806h0M899.3 808h0M900 810h0M900 810h0M900.7 813.3h0M901.5 816.6h0M902.2 819.9h0M902.9 823.3h0M903.7 826.6h0M904 828h0M904.4 830.2h0M905.2 834.2h0M905.9 838.1h0M906.6 842h0M907 844h0M907.4 848.1h0M908 855h0M908.8 849.5h0M909.6 844.7h0M910 842h0M910.3 839.1h0M911.1 832.5h0M911.8 825.8h0M912 824h0M912.5 822.3h0M913.3 819.9h0M914 817.6h0M914.7 815.2h0M915 814.4h0M915.5 816.2h0M916.2 819h0M917 821.9h0M917 822h0M917.7 826.2h0M918.4 830.6h0M919 834h0M919.9 838.1h0M920.6 841.4h0M921 843h0M922.9 843.3h0M924.3 843.5h0M925.8 843.7h0M927.3 843.9h0M928 844h0M929.5 845.3h0M931 846.5h0M932.5 847.7h0M933.9 848.9h0M934 849h0M935.4 850.1h0M936.9 851.2h0M938.4 852.3h0M939.8 853.4h0M941.3 854.5h0M942 855h0M943.5 854.6h0M945 854.3h0M946.5 853.9h0M947.9 853.5h0M949.4 853.1h0M950 853h0M951.6 853h0M953.8 853h0M956.1 853h0M958 853h0M959.7 852.1h0M961.2 851.4h0M962.7 850.7h0M964.2 849.9h0M965.6 849.2h0M966 849h0M967.1 848.5h0M968.6 847.9h0M970.1 847.3h0M971.6 846.6h0M973 846h0M974.5 846.6h0M976 847.2h0M977.5 847.8h0M978 848h0M978 857h0M978.9 858.5h0M979.7 859.8h0M980.4 861h0M981 862h0M981.1 863.7h0M981.9 872.5h0M982 874h0M982.6 877.7h0M983.4 882.1h0M984 886h0M984.8 883.8h0M985.6 881.8h0M986.3 879.9h0M987 878h0M987.8 875.9h0M988.5 874h0M989.3 872h0M990 870h0M990 870h0M991.5 870.8h0M992.9 871.6h0M993.6 872h0M993.6 862h0M994.4 857.9h0M995.2 854.2h0M995.9 850.5h0M996 850h0M996.6 847.5h0M997.4 844.5h0M998.1 841.6h0M998.8 838.6h0M999.6 835.7h0M1000 834h0M1001.1 830.3h0M1001.8 827.7h0M1002.5 825.1h0M1003.3 822.5h0M1004 820h0M1004.7 818.5h0M1005.5 817h0M1006.2 815.6h0M1007 814.1h0M1007.7 812.6h0M1008 812h0M1009.2 811.1h0M1010.6 809.9h0M1012.1 808.7h0M1013 808h0M1013.6 804.6h0M1014 802.4h0M1015.1 803.4h0M1016.6 804.7h0M1018 806h0M1019.5 805.9h0M1021.7 805.7h0M1023.9 805.5h0M1026.1 805.3h0M1028.4 805.1h0M1030 805h0M1031.3 805.9h0M1032.8 806.9h0M1034.3 808h0M1035.7 809h0M1037.2 810h0M1038.7 811.1h0M1040 812h0M1040.9 810.7h0M1041.6 809.6h0M1042.4 808.4h0M1043.1 807.3h0M1043.8 806.2h0M1044 806h0M1045.3 804.8h0M1046.8 803.5h0M1048 802.4h0M1049.7 802.4h0M1052 802.4h0M1054.2 802.4h0M1056.4 802.4h0M1058.6 802.4h0M1060.8 802.4h0M1063 802.4h0M1065.2 802.4h0M1067.5 802.4h0M1069.7 802.4h0M1071.9 802.4h0M1074 802.4h0M1076.3 802.4h0M1078.5 802.3h0M1080.7 802.3h0M1082.9 802.2h0M1085.2 802.2h0M1087.4 802.1h0M1089.6 802.1h0M1091.8 802h0M1094 802h0M1096.2 802.1h0M1098.4 802.3h0M1100.6 802.4h0M1102.9 802.6h0M1105.1 802.7h0M1107.3 802.8h0M1109.5 803h0M1110 803h0M1111.7 802.8h0M1113.2 802.5h0M1114.7 802.3h0M1116.1 802.1h0M1117.6 801.9h0M1119.1 801.7h0M1120.6 801.5h0M1122 801.3h0M1123.5 801.1h0M1124 801h0M1125 802.5h0M1125.7 803.6h0M1126.5 804.7h0M1127.2 805.8h0M1127.9 806.9h0M1128 807h0M1129.4 806.6h0M1130.9 806.2h0M1132.4 805.9h0M1133.8 805.5h0M1135.3 805.1h0M1136.8 804.7h0M1138 804.4h0M1139.7 804.2h0M1141.2 804.1h0M1142.7 804h0M1144.2 803.9h0M1145.6 803.7h0M1147.1 803.6h0M1148.6 803.5h0M1150.1 803.3h0M1151.5 803.2h0M1153 803.1h0M1154 803h0M1156 802.9h0M1158.2 802.9h0M1160.4 802.8h0M1162.6 802.7h0M1164.8 802.7h0M1167 802.6h0M1169.3 802.5h0M1171.5 802.5h0M1173.7 802.4h0M1174 802.4h0M1175.9 802.4h0M1178.1 802.4h0M1180.3 802.4h0M1182.5 802.4h0M1184.7 802.4h0M1187 802.4h0M1189.2 802.4h0M1191.4 802.4h0M1193.6 802.4h0M1195.8 802.4h0M1198 802.4h0M1200.2 802.4h0M1202.5 802.4h0M1204 802.4h0"/>
<g font-size="59.3" fill="#262626">
<text x="307" y="1070.5" text-anchor="middle">0</text>
<text x="454.5" y="1070.5" text-anchor="middle">200</text>
<text x="602.1" y="1070.5" text-anchor="middle">400</text>
<text x="749.6" y="1070.5" text-anchor="middle">600</text>
<text x="897.2" y="1070.5" text-anchor="middle">800</text>
<text x="1044.7" y="1070.5" text-anchor="middle">1000</text>
<text x="1192.2" y="1070.5" text-anchor="middle">1200</text>
<text x="275.8" y="644.2" text-anchor="end">10</text>
<text x="275.8" y="824.9" text-anchor="end">0</text>
<text x="275.8" y="1005.6" text-anchor="end">-10</text>
</g>
<text transform="translate(71.4 802.4) rotate(-90)" font-size="65" fill="#262626" text-anchor="middle">Position error</text>
<text transform="translate(162.2 802.4) rotate(-90)" font-size="65" fill="#262626" text-anchor="middle">North(m)</text>
<rect x="481.2" y="557.4" width="516.1" height="154.6" fill="#fff" stroke="#262626" stroke-width="1.7"/>
<path d="M493.8 598.2h127.5" stroke="#000" stroke-width="4.6" stroke-dasharray="25.5 15.2" fill="none"/>
<text x="630.5" y="621" font-size="52.8" fill="#000">2<tspan class="sg" font-size="46" dx="1.2" dy="0.6" textLength="28.8" lengthAdjust="spacingAndGlyphs">σ</tspan><tspan dx="1.5" dy="-0.6"> bound</tspan></text>
<path d="M493.8 669h127.5" stroke="#000" stroke-width="4.6" stroke-dasharray="25.5 15.2" fill="none"/>
<text x="630.4" y="690.4" font-size="52.8" fill="#000">RMS: 1.4666m</text>
</g>
<g id="p5">
<path d="M307 1152.3V1527M454.5 1152.3V1527M602.1 1152.3V1527M749.6 1152.3V1527M897.2 1152.3V1527M1044.7 1152.3V1527M1192.2 1152.3V1527M297.3 1163.2H1201.8M297.3 1284.4H1201.8M297.3 1405.6H1201.8" stroke="#cbcbcb" stroke-width="1.6" stroke-dasharray="1.3 1.3" fill="none"/>
<rect x="297.3" y="1152.3" width="904.5" height="374.7" fill="none" stroke="#262626" stroke-width="1.7"/>
<path d="M307 1527v-10 M307 1152.3v10M454.5 1527v-10 M454.5 1152.3v10M602.1 1527v-10 M602.1 1152.3v10M749.6 1527v-10 M749.6 1152.3v10M897.2 1527v-10 M897.2 1152.3v10M1044.7 1527v-10 M1044.7 1152.3v10M1192.2 1527v-10 M1192.2 1152.3v10M297.3 1163.2h10 M1201.8 1163.2h-10M297.3 1284.4h10 M1201.8 1284.4h-10M297.3 1405.6h10 M1201.8 1405.6h-10" stroke="#262626" stroke-width="1.7" fill="none"/>
<g clip-path="url(#cp5)" fill="none" stroke="#000" stroke-width="4.5" stroke-dasharray="25 16" stroke-linejoin="round"><polyline points="296.6,1152.3 297.4,1152.3 297.8,1282.4 329.6,1282.4 330.6,1275 331.6,1282 383,1282 385,1278 395,1276 402,1271 406,1273 407,1280 426,1280 427,1276 435,1271 453,1274 454,1280 492,1280 493,1276 501,1273 517,1273 519,1271 537,1274 545,1278 563,1279 579,1275 601,1273 643,1273 651,1269 655,1264 663,1256 669,1255 681,1248 688,1244 693,1255 707,1244 710,1245 711,1256 715,1257 727,1248 729,1254 734,1260 737,1272 740,1278 753.8,1280 754,1272 766,1270.4 776,1273 778,1276 797,1276.6 863,1277.4 878,1277 894,1275.6 902,1270 904,1267 920,1264.6 924,1269 936,1269.6 960,1270.4 976,1270.6 984,1267.6 993,1271.6 995,1278 1005,1280 1006,1275 1018,1275 1019,1281 1034,1281 1035,1272 1047,1272 1048,1280 1054,1278 1066,1278 1067,1281.6 1079,1281.6 1080,1276 1082,1281.6 1111,1281.6 1112,1277 1124,1277 1125,1281.6 1140,1281.6 1141,1275 1142,1281.6 1169,1281.6 1170,1277 1190,1277 1191,1282 1204,1282"/><polyline stroke-dashoffset="4" points="296.6,1418 297.4,1418 297.8,1285.6 329.6,1285.6 330.6,1293 331.6,1286 383,1286 385,1290 395,1292 402,1297 406,1295 407,1288 426,1288 427,1292 435,1297 453,1294 454,1288 492,1288 493,1292 501,1295 517,1295 519,1297 537,1294 545,1290 563,1289 579,1293 601,1295 643,1295 651,1299 655,1304 663,1312 669,1313 681,1320 688,1324 693,1313 707,1324 710,1323 711,1312 715,1311 727,1320 729,1314 734,1308 737,1296 740,1290 753.8,1288 754,1296 766,1297.6 776,1295 778,1292 797,1291.4 863,1290.6 878,1291 894,1292.4 902,1298 904,1301 920,1303.4 924,1299 936,1298.4 960,1297.6 976,1297.4 984,1300.4 993,1296.4 995,1290 1005,1288 1006,1293 1018,1293 1019,1287 1034,1287 1035,1296 1047,1296 1048,1288 1054,1290 1066,1290 1067,1286.4 1079,1286.4 1080,1292 1082,1286.4 1111,1286.4 1112,1291 1124,1291 1125,1286.4 1140,1286.4 1141,1293 1142,1286.4 1169,1286.4 1170,1291 1190,1291 1191,1286 1204,1286"/></g>
<polyline fill="none" stroke="#D95319" stroke-width="2.2" stroke-linejoin="round" points="295,1284 379,1284 385,1285 403,1282 411,1286 423,1284 427,1286 433,1293 439,1294.4 447,1292 453,1288 455,1283 493,1283 494,1275 499,1275 507,1282 515,1289 521,1290 522,1284 535,1283.6 545,1287 547,1284 563,1284 565,1292 571,1296 577,1291 583,1289.6 591,1296 599,1299.6 609,1295 617,1301 627,1300 635,1297 641.6,1292 645,1297 651,1297 651,1338 654,1346 657,1350 660,1330 660.6,1344 663,1350 667,1364 671,1380 674,1396 674.4,1406 676,1420 678,1436 680,1452 682,1466 684,1476 688,1484.4 688.6,1430 690,1387 691,1346 697,1352 702,1357 704,1340 710,1336 710.6,1292 715,1288 719,1275 725,1266 730,1256 731,1240 732.4,1234.4 733,1260 734,1276 736,1289 741,1285 753.8,1284.4 754,1283 758,1287 763,1293 763,1310 766,1322 769,1333 771,1320 773,1308 775,1290 776,1281 778,1260 781,1240 785,1224 790,1214 796,1207 803,1203 810,1207 814,1213 824,1221 834,1229 844,1240 854,1249 862,1254 870,1258 870,1283 878,1283 878,1260 890,1264 898,1266 903,1272 908,1280 912,1290 916,1283 922,1293 930,1286 942,1282 946,1287 954,1289 962,1292 965,1297 970,1292 976,1295 980,1304 983.6,1309 988,1297 992,1287 1004,1283 1018,1280 1034,1279 1038,1285 1054,1283 1074,1283 1090,1283 1100,1280 1112,1278 1122,1281 1128,1284 1142,1282.4 1166,1282.4 1174,1280 1188,1279.6 1194,1283 1204,1284.4"/>
<path fill="none" stroke="#D95319" stroke-width="9.2" stroke-linecap="round" d="M295 1284h0M297.3 1284h0M299.5 1284h0M301.7 1284h0M303.9 1284h0M306.1 1284h0M308.4 1284h0M310.6 1284h0M312.8 1284h0M315 1284h0M317.2 1284h0M319.4 1284h0M321.6 1284h0M323.9 1284h0M326.1 1284h0M328.3 1284h0M330.5 1284h0M332.7 1284h0M334.9 1284h0M337.1 1284h0M339.3 1284h0M341.6 1284h0M343.8 1284h0M346 1284h0M348.2 1284h0M350.4 1284h0M352.6 1284h0M354.8 1284h0M357 1284h0M359.3 1284h0M361.5 1284h0M363.7 1284h0M365.9 1284h0M368.1 1284h0M370.3 1284h0M372.5 1284h0M374.8 1284h0M377 1284h0M379 1284h0M380.7 1284.3h0M382.1 1284.5h0M383.6 1284.8h0M385 1285h0M386.6 1284.7h0M388 1284.5h0M389.5 1284.2h0M391 1284h0M392.5 1283.8h0M393.9 1283.5h0M395.4 1283.3h0M396.9 1283h0M398.4 1282.8h0M399.8 1282.5h0M401.3 1282.3h0M402.8 1282h0M403 1282h0M404.3 1282.6h0M405.7 1283.4h0M407.2 1284.1h0M408.7 1284.8h0M410.2 1285.6h0M411 1286h0M412.4 1285.8h0M413.8 1285.5h0M415.3 1285.3h0M416.8 1285h0M418.3 1284.8h0M419.8 1284.5h0M421.2 1284.3h0M422.7 1284h0M423 1284h0M424.2 1284.6h0M425.7 1285.3h0M427 1286h0M427.9 1287h0M429.3 1288.7h0M430.8 1290.5h0M432.3 1292.2h0M433 1293h0M434.5 1293.4h0M436 1293.7h0M437.5 1294h0M438.9 1294.4h0M439 1294.4h0M440.4 1294h0M441.9 1293.5h0M443.4 1293.1h0M444.8 1292.7h0M446.3 1292.2h0M447 1292h0M448.5 1291h0M450 1290h0M451.5 1289h0M452.9 1288h0M453 1288h0M453.7 1286.3h0M454.4 1284.4h0M455 1283h0M456.6 1283h0M458.8 1283h0M461.1 1283h0M463.3 1283h0M465.5 1283h0M467.7 1283h0M469.9 1283h0M472.1 1283h0M474.3 1283h0M476.6 1283h0M478.8 1283h0M481 1283h0M483.2 1283h0M485.4 1283h0M487.6 1283h0M489.8 1283h0M492 1283h0M493 1283h0M493.5 1278.8h0M494 1275h0M495.7 1275h0M497.9 1275h0M499 1275h0M500.2 1276h0M501.6 1277.3h0M503.1 1278.6h0M504.6 1279.9h0M506.1 1281.2h0M507 1282h0M508.3 1283.1h0M509.8 1284.4h0M511.2 1285.7h0M512.7 1287h0M514.2 1288.3h0M515 1289h0M516.4 1289.2h0M517.9 1289.5h0M519.3 1289.7h0M520.8 1290h0M521 1290h0M521.6 1286.7h0M522 1284h0M523.8 1283.9h0M526 1283.9h0M528.2 1283.8h0M530.4 1283.7h0M532.6 1283.7h0M534.8 1283.6h0M535 1283.6h0M536.3 1284h0M537.8 1284.5h0M539.3 1285h0M540.7 1285.5h0M542.2 1286.1h0M543.7 1286.6h0M545 1287h0M545.9 1285.7h0M546.6 1284.5h0M547 1284h0M548.8 1284h0M551.1 1284h0M553.3 1284h0M555.5 1284h0M557.7 1284h0M559.9 1284h0M562.1 1284h0M563 1284h0M563.6 1286.4h0M564.3 1289.4h0M565 1292h0M566.6 1293h0M568 1294h0M569.5 1295h0M571 1296h0M571 1296h0M572.5 1294.8h0M573.9 1293.6h0M575.4 1292.3h0M576.9 1291.1h0M577 1291h0M578.4 1290.7h0M579.8 1290.3h0M581.3 1290h0M582.8 1289.7h0M583 1289.6h0M584.3 1290.6h0M585.7 1291.8h0M587.2 1293h0M588.7 1294.1h0M590.2 1295.3h0M591 1296h0M592.4 1296.6h0M593.8 1297.3h0M595.3 1297.9h0M596.8 1298.6h0M598.3 1299.3h0M599 1299.6h0M600.5 1298.9h0M602 1298.2h0M603.4 1297.6h0M604.9 1296.9h0M606.4 1296.2h0M607.9 1295.5h0M609 1295h0M610.1 1295.8h0M611.6 1296.9h0M613 1298h0M614.5 1299.1h0M616 1300.2h0M617 1301h0M618.9 1300.8h0M620.4 1300.7h0M621.9 1300.5h0M623.4 1300.4h0M624.8 1300.2h0M626.3 1300.1h0M627 1300h0M628.5 1299.4h0M630 1298.9h0M631.5 1298.3h0M632.9 1297.8h0M634.4 1297.2h0M635 1297h0M636.6 1295.8h0M638.1 1294.6h0M639.6 1293.5h0M641.1 1292.4h0M641.6 1292h0M642.5 1293.4h0M643.3 1294.5h0M644 1295.5h0M644.7 1296.6h0M645 1297h0M647 1297h0M649.2 1297h0M651 1297h0M651 1338h0M652.1 1341h0M652.9 1343h0M653.6 1344.9h0M654 1346h0M655.1 1347.4h0M655.8 1348.4h0M656.6 1349.4h0M657 1350h0M657.3 1348.1h0M658 1343.1h0M658.8 1338.2h0M659.5 1333.3h0M660 1330h0M660.6 1344h0M661.7 1346.8h0M662.5 1348.6h0M663 1350h0M663.9 1353.3h0M664.7 1355.8h0M665.4 1358.4h0M666.1 1361h0M666.9 1363.6h0M667 1364h0M667.6 1366.5h0M668.4 1369.4h0M669.1 1372.4h0M669.8 1375.3h0M670.6 1378.3h0M671 1380h0M671.3 1381.6h0M672 1385.6h0M672.8 1389.5h0M673.5 1393.4h0M674 1396h0M674.4 1406h0M675 1411.2h0M675.7 1417.7h0M676 1420h0M676.5 1423.8h0M677.2 1429.7h0M677.9 1435.6h0M678 1436h0M678.7 1441.5h0M679.4 1447.4h0M680 1452h0M680.9 1458.3h0M681.6 1463.4h0M682 1466h0M682.4 1467.9h0M683.1 1471.6h0M683.8 1475.2h0M684 1476h0M684.6 1477.2h0M685.3 1478.8h0M686.1 1480.3h0M686.8 1481.9h0M687.5 1483.4h0M688 1484.4h0M688.6 1430h0M690 1387h0M691 1346h0M692 1347h0M693.4 1348.4h0M694.9 1349.9h0M696.4 1351.4h0M697 1352h0M697.9 1352.9h0M699.3 1354.3h0M700.8 1355.8h0M702 1357h0M702.3 1354.5h0M703 1348.3h0M703.8 1342h0M704 1340h0M705.2 1339.2h0M706.7 1338.2h0M708.2 1337.2h0M709.7 1336.2h0M710 1336h0M710.6 1292h0M711.9 1290.8h0M713.4 1289.5h0M714.8 1288.2h0M715 1288h0M715.6 1286.2h0M716.3 1283.8h0M717 1281.4h0M717.8 1279h0M718.5 1276.6h0M719 1275h0M720 1273.5h0M720.7 1272.4h0M721.5 1271.3h0M722.2 1270.2h0M722.9 1269.1h0M723.7 1268h0M724.4 1266.9h0M725 1266h0M725.9 1264.2h0M726.6 1262.7h0M727.4 1261.3h0M728.1 1259.8h0M728.8 1258.3h0M729.6 1256.8h0M730 1256h0M730.3 1250.8h0M731 1240h0M731.8 1236.8h0M732.4 1234.4h0M733 1260h0M733.3 1264.4h0M734 1276h0M734.7 1280.9h0M735.5 1285.7h0M736 1289h0M737 1288.2h0M738.4 1287h0M739.9 1285.9h0M741 1285h0M742.9 1284.9h0M745.1 1284.8h0M747.3 1284.7h0M749.5 1284.6h0M751.7 1284.5h0M753.8 1284.4h0M754 1283h0M755.4 1284.4h0M756.9 1285.9h0M758 1287h0M759.1 1288.3h0M759.8 1289.2h0M760.6 1290.1h0M761.3 1291h0M762 1291.9h0M762.8 1292.7h0M763 1293h0M763 1310h0M763.5 1312.1h0M764.3 1315h0M765 1318h0M765.7 1320.9h0M766 1322h0M766.5 1323.7h0M767.2 1326.4h0M767.9 1329.1h0M768.7 1331.8h0M769 1333h0M769.4 1330.3h0M770.2 1325.5h0M770.9 1320.7h0M771 1320h0M771.6 1316.2h0M772.4 1311.8h0M773 1308h0M773.8 1300.4h0M774.6 1293.7h0M775 1290h0M775.3 1287.1h0M776 1281h0M776.8 1272.6h0M777.5 1264.9h0M778 1260h0M778.3 1258.2h0M779 1253.3h0M779.7 1248.3h0M780.5 1243.4h0M781 1240h0M782 1236.2h0M782.7 1233.2h0M783.4 1230.3h0M784.2 1227.3h0M784.9 1224.3h0M785 1224h0M785.7 1222.7h0M786.4 1221.2h0M787.1 1219.7h0M787.9 1218.3h0M788.6 1216.8h0M789.3 1215.3h0M790 1214h0M790.8 1213h0M792.3 1211.3h0M793.8 1209.6h0M795.2 1207.9h0M796 1207h0M797.5 1206.2h0M798.9 1205.3h0M800.4 1204.5h0M801.9 1203.6h0M803 1203h0M804.1 1203.6h0M805.6 1204.5h0M807 1205.3h0M808.5 1206.2h0M810 1207h0M810 1207h0M810.7 1208.1h0M811.5 1209.2h0M812.2 1210.3h0M812.9 1211.4h0M813.7 1212.5h0M814 1213h0M815.2 1213.9h0M816.6 1215.1h0M818.1 1216.3h0M819.6 1217.5h0M821.1 1218.6h0M822.5 1219.8h0M824 1221h0M825.5 1222.2h0M827 1223.4h0M828.4 1224.5h0M829.9 1225.7h0M831.4 1226.9h0M832.9 1228.1h0M834 1229h0M835.1 1230.2h0M836.6 1231.8h0M838 1233.4h0M839.5 1235.1h0M841 1236.7h0M842.5 1238.3h0M843.9 1239.9h0M844 1240h0M845.4 1241.3h0M846.9 1242.6h0M848.4 1243.9h0M849.8 1245.2h0M851.3 1246.6h0M852.8 1247.9h0M854 1249h0M855 1249.6h0M856.5 1250.5h0M857.9 1251.5h0M859.4 1252.4h0M860.9 1253.3h0M862 1254h0M863.1 1254.6h0M864.6 1255.3h0M866.1 1256h0M867.5 1256.8h0M869 1257.5h0M870 1258h0M870 1283h0M872 1283h0M874.2 1283h0M876.4 1283h0M878 1283h0M878 1260h0M879.3 1260.4h0M880.8 1260.9h0M882.3 1261.4h0M883.8 1261.9h0M885.2 1262.4h0M886.7 1262.9h0M888.2 1263.4h0M889.7 1263.9h0M890 1264h0M891.9 1264.5h0M893.4 1264.8h0M894.8 1265.2h0M896.3 1265.6h0M897.8 1265.9h0M898 1266h0M899.3 1267.5h0M900 1268.4h0M900.7 1269.3h0M901.5 1270.2h0M902.2 1271h0M902.9 1271.9h0M903 1272h0M903.7 1273.1h0M904.4 1274.3h0M905.2 1275.5h0M905.9 1276.6h0M906.6 1277.8h0M907.4 1279h0M908 1280h0M908.8 1282.1h0M909.6 1284h0M910.3 1285.8h0M911.1 1287.6h0M911.8 1289.5h0M912 1290h0M913.3 1287.8h0M914 1286.5h0M914.7 1285.2h0M915.5 1283.9h0M916 1283h0M917 1284.6h0M917.7 1285.8h0M918.4 1287.1h0M919.2 1288.3h0M919.9 1289.5h0M920.6 1290.7h0M921.4 1292h0M922 1293h0M922.9 1292.2h0M924.3 1291h0M925.8 1289.7h0M927.3 1288.4h0M928.8 1287.1h0M930 1286h0M931.7 1285.4h0M933.2 1284.9h0M934.7 1284.4h0M936.1 1284h0M937.6 1283.5h0M939.1 1283h0M940.6 1282.5h0M942 1282h0M942.8 1283h0M943.5 1283.9h0M944.3 1284.8h0M945 1285.7h0M945.7 1286.7h0M946 1287h0M947.9 1287.5h0M949.4 1287.9h0M950.9 1288.2h0M952.4 1288.6h0M953.8 1289h0M954 1289h0M955.3 1289.5h0M956.8 1290h0M958.3 1290.6h0M959.7 1291.2h0M961.2 1291.7h0M962 1292h0M962.7 1293.2h0M963.4 1294.4h0M964.2 1295.6h0M964.9 1296.9h0M965 1297h0M966.4 1295.6h0M967.9 1294.1h0M969.3 1292.7h0M970 1292h0M971.6 1292.8h0M973 1293.5h0M974.5 1294.3h0M976 1295h0M976 1295h0M976.7 1296.6h0M977.5 1298.3h0M978.2 1299.9h0M978.9 1301.6h0M979.7 1303.2h0M980 1304h0M981.1 1305.6h0M981.9 1306.6h0M982.6 1307.6h0M983.4 1308.7h0M983.6 1309h0M984.1 1307.7h0M984.8 1305.6h0M985.6 1303.6h0M986.3 1301.6h0M987 1299.6h0M987.8 1297.6h0M988 1297h0M988.5 1295.7h0M989.3 1293.9h0M990 1292h0M990.7 1290.2h0M991.5 1288.3h0M992 1287h0M993.7 1286.4h0M995.2 1285.9h0M996.6 1285.5h0M998.1 1285h0M999.6 1284.5h0M1001.1 1284h0M1002.5 1283.5h0M1004 1283h0M1005.5 1282.7h0M1007 1282.4h0M1008.4 1282h0M1009.9 1281.7h0M1011.4 1281.4h0M1012.9 1281.1h0M1014.3 1280.8h0M1015.8 1280.5h0M1017.3 1280.2h0M1018 1280h0M1020.2 1279.9h0M1022.5 1279.7h0M1024.7 1279.6h0M1026.9 1279.4h0M1029.1 1279.3h0M1031.3 1279.2h0M1033.5 1279h0M1034 1279h0M1035 1280.5h0M1035.7 1281.6h0M1036.5 1282.7h0M1037.2 1283.8h0M1037.9 1284.9h0M1038 1285h0M1040.2 1284.7h0M1041.6 1284.5h0M1043.1 1284.4h0M1044.6 1284.2h0M1046.1 1284h0M1047.5 1283.8h0M1049 1283.6h0M1050.5 1283.4h0M1052 1283.3h0M1053.4 1283.1h0M1054 1283h0M1055.6 1283h0M1057.9 1283h0M1060.1 1283h0M1062.3 1283h0M1064.5 1283h0M1066.7 1283h0M1068.9 1283h0M1071.1 1283h0M1073.4 1283h0M1074 1283h0M1076.3 1283h0M1078.5 1283h0M1080.7 1283h0M1082.9 1283h0M1085.2 1283h0M1087.4 1283h0M1089.6 1283h0M1090 1283h0M1091.8 1282.5h0M1093.3 1282h0M1094.7 1281.6h0M1096.2 1281.1h0M1097.7 1280.7h0M1099.2 1280.2h0M1100 1280h0M1101.4 1279.8h0M1102.9 1279.5h0M1104.3 1279.3h0M1105.8 1279h0M1107.3 1278.8h0M1108.8 1278.5h0M1110.2 1278.3h0M1111.7 1278h0M1112 1278h0M1113.9 1278.6h0M1115.4 1279h0M1116.9 1279.5h0M1118.4 1279.9h0M1119.8 1280.3h0M1121.3 1280.8h0M1122 1281h0M1123.5 1281.8h0M1125 1282.5h0M1126.5 1283.2h0M1127.9 1284h0M1128 1284h0M1130.2 1283.8h0M1131.6 1283.6h0M1133.1 1283.4h0M1134.6 1283.2h0M1136.1 1283.1h0M1137.5 1282.9h0M1139 1282.7h0M1140.5 1282.6h0M1142 1282.4h0M1142 1282.4h0M1144.2 1282.4h0M1146.4 1282.4h0M1148.6 1282.4h0M1150.8 1282.4h0M1153 1282.4h0M1155.2 1282.4h0M1157.5 1282.4h0M1159.7 1282.4h0M1161.9 1282.4h0M1164.1 1282.4h0M1166 1282.4h0M1167.8 1281.9h0M1169.3 1281.4h0M1170.7 1281h0M1172.2 1280.5h0M1173.7 1280.1h0M1174 1280h0M1175.9 1279.9h0M1178.1 1279.9h0M1180.3 1279.8h0M1182.5 1279.8h0M1184.7 1279.7h0M1187 1279.6h0M1188 1279.6h0M1189.2 1280.3h0M1190.6 1281.1h0M1192.1 1281.9h0M1193.6 1282.8h0M1194 1283h0M1195.8 1283.3h0M1197.3 1283.5h0M1198.8 1283.7h0M1200.2 1283.9h0M1201.7 1284.1h0M1203.2 1284.3h0M1204 1284.4h0"/>
<g font-size="59.3" fill="#262626">
<text x="307" y="1607.7" text-anchor="middle">0</text>
<text x="454.5" y="1607.7" text-anchor="middle">200</text>
<text x="602.1" y="1607.7" text-anchor="middle">400</text>
<text x="749.6" y="1607.7" text-anchor="middle">600</text>
<text x="897.2" y="1607.7" text-anchor="middle">800</text>
<text x="1044.7" y="1607.7" text-anchor="middle">1000</text>
<text x="1192.2" y="1607.7" text-anchor="middle">1200</text>
<text x="275.8" y="1185.5" text-anchor="end">10</text>
<text x="275.8" y="1306.7" text-anchor="end">0</text>
<text x="275.8" y="1427.9" text-anchor="end">-10</text>
<text x="275.8" y="1549.1" text-anchor="end">-20</text>
</g>
<text x="748" y="1692.4" font-size="65" fill="#262626" text-anchor="middle">GPS Time(s)</text>
<text transform="translate(71.4 1339.7) rotate(-90)" font-size="65" fill="#262626" text-anchor="middle">Position error</text>
<text transform="translate(162.2 1339.7) rotate(-90)" font-size="65" fill="#262626" text-anchor="middle">Up(m)</text>
<rect x="713.4" y="1377.7" width="519.5" height="151" fill="#fff" stroke="#262626" stroke-width="1.7"/>
<path d="M726 1418.5h127.5" stroke="#000" stroke-width="4.6" stroke-dasharray="25.5 15.2" fill="none"/>
<text x="862.7" y="1441.3" font-size="52.8" fill="#000">2<tspan class="sg" font-size="46" dx="1.2" dy="0.6" textLength="28.8" lengthAdjust="spacingAndGlyphs">σ</tspan><tspan dx="1.5" dy="-0.6"> bound</tspan></text>
<path d="M726 1489.3h127.5" stroke="#000" stroke-width="4.6" stroke-dasharray="25.5 15.2" fill="none"/>
<text x="862.6" y="1510.7" font-size="52.8" fill="#000">RMS: 2.7520m</text>
</g>
<g id="p2">
<path d="M1432 78.4V453.5M1590.9 78.4V453.5M1749.8 78.4V453.5M1908.6 78.4V453.5M2067.5 78.4V453.5M2226.4 78.4V453.5M2385.3 78.4V453.5M1421.8 266H2395.1" stroke="#cbcbcb" stroke-width="1.6" stroke-dasharray="1.3 1.3" fill="none"/>
<rect x="1421.8" y="78.4" width="973.3" height="375.1" fill="none" stroke="#000" stroke-width="2.3"/>
<path d="M1432 453.5v-10 M1432 78.4v10M1590.9 453.5v-10 M1590.9 78.4v10M1749.8 453.5v-10 M1749.8 78.4v10M1908.6 453.5v-10 M1908.6 78.4v10M2067.5 453.5v-10 M2067.5 78.4v10M2226.4 453.5v-10 M2226.4 78.4v10M2385.3 453.5v-10 M2385.3 78.4v10M1421.8 266h10 M2395.1 266h-10" stroke="#000" stroke-width="2.3" fill="none"/>
<g clip-path="url(#cp2)" fill="none" stroke="#000" stroke-width="4.3" stroke-dasharray="25 16" stroke-linejoin="round"><polyline points="1421.7,78.4 1422.6,78.4 1423,262.8 1437.4,262.8 1438.5,242.1 1445,242.1 1446.1,261.7 1451.6,261.7 1452.7,244.3 1459.2,244.3 1460.3,259.6 1482.1,259.6 1483.2,248.7 1496.2,248.7 1497.3,260.7 1508.2,260.7 1509.3,251.9 1515.8,251.9 1516.9,260.7 1526.7,260.7 1527.8,244.3 1546.3,244.3 1547.4,259.6 1560.5,259.6 1561.6,248.7 1563.7,248.7 1564.8,258.5 1571.4,258.5 1572.4,237.8 1592,244.3 1593.1,259.6 1632.3,259.6 1633.4,247.6 1644.3,241.1 1653,230.2 1668.3,237.4 1670.4,253 1677,253 1678.1,238.9 1692.2,241.1 1693.3,257.4 1697.7,257.4 1698.7,246.5 1700.9,246.5 1702,257.4 1708.5,257.4 1709.6,246.5 1711.8,246.5 1712.9,257.4 1724.9,257.4 1727.1,243.2 1742.3,238.2 1751,238.9 1766.3,240 1790.2,241.5 1798.9,237.8 1801.1,231.3 1812,229.1 1817.4,221.5 1822.9,214.9 1826.1,202.9 1831.6,214.9 1842.5,212.7 1845.7,219.3 1852.3,209.5 1859.9,201.9 1865.3,200.8 1868.6,211.7 1873,216 1883.9,205.1 1889.3,191 1891.5,210.6 1893.6,228 1898,258.5 1899.1,246.5 1900,257.4 1902.2,257.4 1903.3,246.5 1907.6,246.5 1908.7,257.4 1914.2,257.4 1915.2,246.5 1928.3,230.2 1939.2,234.5 1958.8,241.7 1977.3,242.8 2000.2,246.1 2007.8,247.6 2008.9,259.6 2048.1,259.6 2049.2,249.8 2055.7,249.8 2056.8,257.4 2059,257.4 2060.1,243.7 2074.2,236 2084,232.3 2097.1,232.3 2115.6,234.5 2139.5,237.8 2150.4,230.2 2158.1,222.5 2161.3,230.2 2164.6,253 2173.3,257.4 2174.4,240 2177.7,240 2178.7,257.4 2180.9,257.4 2182,244.3 2191.8,244.3 2192.9,258.5 2203.8,258.5 2204.9,251.9 2213.6,251.9 2214.7,258.5 2216.9,258.5 2217.9,242.1 2231,242.1 2232.1,257.4 2234.3,257.4 2235.4,245.4 2239.7,245.4 2240.8,258.5 2251.7,258.5 2252.8,247.6 2265.9,247.6 2266.9,259.6 2277.8,259.6 2278.9,250.9 2281.1,250.9 2282.2,259.6 2286.5,259.6 2287.6,247.6 2302.9,247.6 2304,257.4 2308.3,257.4 2309.4,247.6 2317,241.1 2324.7,243.2 2330.1,243.2 2332.3,259.6 2364.9,259.6 2366,247.6 2387.8,247.6 2388.9,261.7 2397.6,261.7"/><polyline stroke-dashoffset="4" points="1421.7,453.5 1422.6,453.5 1423,269.4 1437.4,269.4 1438.5,290.1 1445,290.1 1446.1,270.5 1451.6,270.5 1452.7,287.9 1459.2,287.9 1460.3,272.6 1482.1,272.6 1483.2,283.5 1496.2,283.5 1497.3,271.5 1508.2,271.5 1509.3,280.3 1515.8,280.3 1516.9,271.5 1526.7,271.5 1527.8,287.9 1546.3,287.9 1547.4,272.6 1560.5,272.6 1561.6,283.5 1563.7,283.5 1564.8,273.7 1571.4,273.7 1572.4,294.4 1592,287.9 1593.1,272.6 1632.3,272.6 1633.4,284.6 1644.3,291.1 1653,302 1668.3,294.8 1670.4,279.2 1677,279.2 1678.1,293.3 1692.2,291.1 1693.3,274.8 1697.7,274.8 1698.7,285.7 1700.9,285.7 1702,274.8 1708.5,274.8 1709.6,285.7 1711.8,285.7 1712.9,274.8 1724.9,274.8 1727.1,289 1742.3,294 1751,293.3 1766.3,292.2 1790.2,290.7 1798.9,294.4 1801.1,300.9 1812,303.1 1817.4,310.7 1822.9,317.3 1826.1,329.3 1831.6,317.3 1842.5,319.5 1845.7,312.9 1852.3,322.7 1859.9,330.3 1865.3,331.4 1868.6,320.5 1873,316.2 1883.9,327.1 1889.3,341.2 1891.5,321.6 1893.6,304.2 1898,273.7 1899.1,285.7 1900,274.8 1902.2,274.8 1903.3,285.7 1907.6,285.7 1908.7,274.8 1914.2,274.8 1915.2,285.7 1928.3,302 1939.2,297.7 1958.8,290.5 1977.3,289.4 2000.2,286.1 2007.8,284.6 2008.9,272.6 2048.1,272.6 2049.2,282.4 2055.7,282.4 2056.8,274.8 2059,274.8 2060.1,288.5 2074.2,296.2 2084,299.9 2097.1,299.9 2115.6,297.7 2139.5,294.4 2150.4,302 2158.1,309.7 2161.3,302 2164.6,279.2 2173.3,274.8 2174.4,292.2 2177.7,292.2 2178.7,274.8 2180.9,274.8 2182,287.9 2191.8,287.9 2192.9,273.7 2203.8,273.7 2204.9,280.3 2213.6,280.3 2214.7,273.7 2216.9,273.7 2217.9,290.1 2231,290.1 2232.1,274.8 2234.3,274.8 2235.4,286.8 2239.7,286.8 2240.8,273.7 2251.7,273.7 2252.8,284.6 2265.9,284.6 2266.9,272.6 2277.8,272.6 2278.9,281.3 2281.1,281.3 2282.2,272.6 2286.5,272.6 2287.6,284.6 2302.9,284.6 2304,274.8 2308.3,274.8 2309.4,284.6 2317,291.1 2324.7,289 2330.1,289 2332.3,272.6 2364.9,272.6 2366,284.6 2387.8,284.6 2388.9,270.5 2397.6,270.5"/></g>
<polyline fill="none" stroke="#FF0000" stroke-width="2.2" stroke-linejoin="round" points="1420,266.1 1437.4,265 1441.8,254.1 1445,256.3 1447.2,266.1 1452.7,265 1453.8,252 1457,237.8 1460.3,243.2 1463.6,248.7 1463.6,266.1 1478.8,265 1482.1,255.2 1487.5,258.5 1493,260.7 1495.1,266.1 1509.3,266.1 1513.6,260.7 1528.9,259.6 1533.2,256.3 1538.7,261.8 1546.3,263.3 1550.7,266.1 1559.4,266.1 1563.7,260.7 1570.3,254.1 1581.1,249.8 1587.7,250.9 1592,253 1593.1,266.1 1633.4,266.1 1635.6,259.6 1639.9,259.6 1646.5,243.2 1652.4,234.5 1655.2,249.8 1661.7,260.7 1663.9,273.7 1666.1,282.4 1672.6,275.9 1681.3,269.4 1692.2,267.2 1698.7,262.8 1705.3,263.9 1711.8,260.7 1720.5,267.2 1731.4,272.6 1737.9,273.7 1744.5,279.2 1757.5,284.6 1766.3,280.3 1777.1,280.3 1788,283.5 1793.5,289 1801.1,282.4 1803.3,271.6 1806.5,266.1 1812,271.6 1816.3,260.7 1819.6,254.1 1822.9,260.7 1825.1,243.2 1825.5,230.2 1826.8,213.8 1827.7,225.8 1828.3,238.9 1830.5,244.3 1837,243.2 1840.3,252 1843.6,262.8 1845.7,273.7 1850.1,280.3 1856.6,269.4 1858.8,284.6 1862.1,280.3 1866.4,260.7 1869.7,271.6 1874.1,290.1 1877.3,262.8 1880.6,278.1 1883.9,299.9 1887.8,317.3 1890.4,299.9 1891.5,273.7 1893.6,262.8 1899.1,261.8 1900,266.1 1913.1,266.1 1917.4,260.7 1924,249.8 1927.2,243.2 1932.7,246.5 1939.2,242.2 1945.7,246.5 1952.3,248.7 1961,246.5 1968.6,245.4 1974,250.9 1980.6,256.3 1987.1,258.5 1995.8,256.7 2004.5,254.6 2010,256.3 2010,268.3 2043.7,268.3 2048.1,261.8 2052.4,260.7 2055.7,267.2 2065.5,262.8 2072,258.5 2076.4,252 2078.6,238.9 2080.7,247.6 2084,256.3 2086.2,262.8 2089.5,256.3 2091.6,245.4 2091.6,234.5 2096,230.2 2104.7,223.6 2113.4,218.2 2124.3,216 2134.1,218.2 2138.5,221.5 2140.6,216 2143.9,222.6 2147.2,221.5 2148.3,231.3 2148.9,241.1 2150,252 2150.4,266.1 2151.5,280.3 2153.7,286.8 2155.2,293.3 2155.9,310.7 2156.5,333.6 2157,357.6 2158.1,382.6 2158.7,401.1 2159.6,382.6 2161.3,358.7 2163.1,340.1 2164.6,321.6 2167.4,306.4 2170,295.5 2174.8,291.1 2174.8,266.1 2180.9,267.2 2183.1,278.1 2189.6,272.6 2191.8,267.2 2204.9,271.6 2213.6,267.2 2224.5,263.9 2239.7,266.1 2259.3,266.1 2268,269.4 2278.9,266.1 2286.5,271.6 2292,267.2 2309.4,266.1 2315.9,258.5 2322.5,258.5 2333.4,263.9 2339.9,267.2 2357.3,267.2 2366,265 2367.1,256.3 2375.8,249.8 2382.4,258.5 2387.8,256.3 2387.8,267.2 2397.6,266.8"/>
<path fill="none" stroke="#FF0000" stroke-width="9.0" stroke-linecap="round" d="M1420 266.1h0M1422 265.6h0M1423.6 265.1h0M1425.2 266.1h0M1426.7 264.7h0M1428.3 265.7h0M1429.9 265.2h0M1431.5 264.4h0M1433.1 265.3h0M1434.7 264.2h0M1436.3 264.9h0M1437.4 265h0M1438.7 261h0M1439.5 259h0M1440.2 257.8h0M1441 256.7h0M1441.8 254.1h0M1443.4 254.4h0M1445 255.7h0M1445 256.3h0M1445.8 260h0M1446.6 264.3h0M1447.2 266.1h0M1449 265.9h0M1450.6 265.2h0M1452.2 266.2h0M1452.7 265h0M1453 260.5h0M1453.8 252.8h0M1453.8 252h0M1454.5 248.1h0M1455.3 244.3h0M1456.1 240.8h0M1456.9 237.8h0M1457 237.8h0M1457.7 239.7h0M1458.5 239.6h0M1459.3 241.8h0M1460.1 243.2h0M1460.3 243.2h0M1460.9 244h0M1461.7 245.7h0M1462.5 246h0M1463.3 247.3h0M1463.6 248.7h0M1463.6 266.1h0M1465.7 265.3h0M1467.3 266.2h0M1468.8 265.6h0M1470.4 265.2h0M1472 265.7h0M1473.6 265.3h0M1475.2 264.8h0M1476.8 265.8h0M1478.4 265.5h0M1478.8 265h0M1480 260.9h0M1480.8 259.3h0M1481.6 256.8h0M1482.1 255.2h0M1483.1 256.7h0M1484.7 257.3h0M1486.3 257.3h0M1487.5 258.5h0M1488.7 260h0M1490.3 258.8h0M1491.9 260.1h0M1493 260.7h0M1493.5 262.5h0M1494.3 263.2h0M1495.1 265.9h0M1495.1 266.1h0M1497.4 265.1h0M1499.8 266.5h0M1502.2 266.7h0M1504.6 266.3h0M1507 266.9h0M1509.3 266.1h0M1510.2 264.6h0M1510.9 264.5h0M1511.7 263.2h0M1512.5 262.2h0M1513.3 261h0M1513.6 260.7h0M1515.7 261.3h0M1517.3 261.4h0M1518.9 260.2h0M1520.5 260.5h0M1522.1 259.1h0M1523.7 260.4h0M1525.2 260.2h0M1526.8 260.8h0M1528.4 260.3h0M1528.9 259.6h0M1530 258.3h0M1531.6 257.3h0M1533.2 256.7h0M1533.2 256.3h0M1534.8 256.8h0M1536.4 259.4h0M1538 260.3h0M1538.7 261.8h0M1540.3 261.2h0M1541.9 261.4h0M1543.5 263.3h0M1545.1 262.2h0M1546.3 263.3h0M1547.5 263.5h0M1549.1 264.8h0M1550.7 266.1h0M1553.1 266.9h0M1555.4 265.2h0M1557.8 266h0M1559.4 266.1h0M1560.2 265.2h0M1561 264.9h0M1561.8 263.8h0M1562.6 262.9h0M1563.4 260.6h0M1563.7 260.7h0M1565 259.2h0M1566.6 257.5h0M1568.1 257.1h0M1569.7 255.7h0M1570.3 254.1h0M1572.1 252.6h0M1573.7 252h0M1575.3 251.5h0M1576.9 250.9h0M1578.5 250.8h0M1580.1 250.4h0M1581.1 249.8h0M1583.2 249.6h0M1584.8 249.3h0M1586.4 250.5h0M1587.7 250.9h0M1588.8 251.1h0M1590.4 252.4h0M1592 254h0M1592 253h0M1592.8 262.3h0M1593.1 266.1h0M1595.2 266.1h0M1597.5 266.4h0M1599.9 266.5h0M1602.3 265.1h0M1604.7 267h0M1607.1 266.7h0M1609.5 266.9h0M1611.8 266.8h0M1614.2 265.9h0M1616.6 265.9h0M1619 265.2h0M1621.4 266.4h0M1623.8 265.1h0M1626.1 265.2h0M1628.5 265.5h0M1630.9 265.4h0M1633.3 265.8h0M1633.4 266.1h0M1634.1 263.1h0M1634.9 260.6h0M1635.6 259.6h0M1637.3 258.8h0M1639.6 258.7h0M1639.9 259.6h0M1640.4 258.1h0M1641.2 255.3h0M1642 255.2h0M1642.8 252.6h0M1643.6 249.6h0M1644.4 247.9h0M1645.2 246.1h0M1646 244.2h0M1646.5 243.2h0M1647.6 240.8h0M1648.4 241.2h0M1649.2 240.3h0M1650 238h0M1650.8 236.9h0M1651.6 234.8h0M1652.4 233.7h0M1652.4 234.5h0M1653.1 238.4h0M1653.9 242.5h0M1654.7 248h0M1655.2 249.8h0M1656.3 250.9h0M1657.1 251.9h0M1657.9 255.3h0M1658.7 255.7h0M1659.5 256.2h0M1660.3 258.4h0M1661.1 258.6h0M1661.7 260.7h0M1662.7 266.5h0M1663.5 272.2h0M1663.9 273.7h0M1664.3 276h0M1665.1 278.8h0M1665.9 281h0M1666.1 282.4h0M1667.4 280.8h0M1669 278.8h0M1670.6 278.5h0M1672.2 276.4h0M1672.6 275.9h0M1673.8 275.6h0M1675.4 273.4h0M1677 272h0M1678.6 272.1h0M1680.2 271.3h0M1681.3 269.4h0M1683.3 269.7h0M1684.9 269.3h0M1686.5 269h0M1688.1 268.5h0M1689.7 267.1h0M1691.3 267.4h0M1692.2 267.2h0M1693.7 265.9h0M1695.2 264.1h0M1696.8 263.1h0M1698.4 262.6h0M1698.7 262.8h0M1700.8 262.7h0M1702.4 263.9h0M1704 264.7h0M1705.3 263.9h0M1706.4 263.3h0M1708 263.5h0M1709.5 262.9h0M1711.1 262h0M1711.8 260.7h0M1712.7 261.1h0M1714.3 261.9h0M1715.9 263.1h0M1717.5 264.3h0M1719.1 265.5h0M1720.5 267.2h0M1722.3 268.3h0M1723.8 269.7h0M1725.4 270.4h0M1727 270.4h0M1728.6 271.6h0M1730.2 272.7h0M1731.4 272.6h0M1733.4 272.1h0M1735 273.6h0M1736.6 274.4h0M1737.9 273.7h0M1738.9 275.2h0M1740.5 276.4h0M1742.1 277.2h0M1743.7 277.8h0M1744.5 279.2h0M1746.1 280.5h0M1747.7 280.1h0M1749.3 281.8h0M1750.9 282.9h0M1752.4 282.3h0M1754 282.9h0M1755.6 284.8h0M1757.2 285h0M1757.5 284.6h0M1758.8 283.3h0M1760.4 282.4h0M1762 281.6h0M1763.6 282.5h0M1765.2 281.5h0M1766.3 280.3h0M1768.3 279.5h0M1770.7 281h0M1773.1 281.3h0M1775.5 280.6h0M1777.1 280.3h0M1778.7 280.4h0M1780.3 281.3h0M1781.8 280.9h0M1783.4 281.1h0M1785 283.7h0M1786.6 283.4h0M1788 283.5h0M1789 284.5h0M1790.6 287h0M1792.2 287.5h0M1793.5 289h0M1794.5 288.9h0M1796.1 287.4h0M1797.7 284.7h0M1799.3 283.4h0M1800.9 282.1h0M1801.1 282.4h0M1801.7 278.9h0M1802.5 275.6h0M1803.3 271.6h0M1804.1 269.7h0M1804.9 268.7h0M1805.7 266.7h0M1806.5 267.1h0M1806.5 266.1h0M1808.1 267.3h0M1809.6 269.1h0M1811.2 271h0M1812 271.6h0M1812.8 270.4h0M1813.6 267.3h0M1814.4 266.4h0M1815.2 263.5h0M1816 261.6h0M1816.3 260.7h0M1817.6 258.2h0M1818.4 255.5h0M1819.2 254.9h0M1819.6 254.1h0M1820.8 255.7h0M1821.6 256.9h0M1822.4 260.3h0M1822.9 260.7h0M1823.1 257.8h0M1823.9 252.1h0M1824.7 246.3h0M1825.1 243.2h0M1825.5 230.2h0M1826.3 219.8h0M1826.8 213.8h0M1827.1 217.9h0M1827.7 225.8h0M1828.3 238.9h0M1829.5 241.9h0M1830.3 244h0M1830.5 244.3h0M1831.9 244.7h0M1833.5 243h0M1835.1 243.7h0M1836.7 242.7h0M1837 243.2h0M1838.2 246h0M1839 249.2h0M1839.8 250.7h0M1840.3 252h0M1841.4 255.8h0M1842.2 258.9h0M1843 261.9h0M1843.6 262.8h0M1844.6 267.9h0M1845.4 272.2h0M1845.7 273.7h0M1847 275.6h0M1847.8 276.8h0M1848.6 278.4h0M1849.4 279.1h0M1850.1 280.3h0M1851 278.9h0M1851.7 277.5h0M1852.5 277.2h0M1853.3 275.3h0M1854.1 274.4h0M1854.9 273.2h0M1855.7 270.4h0M1856.5 269.7h0M1856.6 269.4h0M1857.3 275.1h0M1858.1 280.4h0M1858.8 284.6h0M1859.7 282.6h0M1860.5 281.5h0M1861.3 281.2h0M1862.1 280.3h0M1862.9 275.7h0M1863.7 272.5h0M1864.5 268.6h0M1865.3 266.3h0M1866 263h0M1866.4 260.7h0M1866.8 262.9h0M1867.6 263.9h0M1868.4 267.8h0M1869.2 270.3h0M1869.7 271.6h0M1870 272.1h0M1870.8 277.1h0M1871.6 280.7h0M1872.4 282.4h0M1873.2 287.4h0M1874 289.6h0M1874.1 290.1h0M1874.8 283.9h0M1875.6 278.4h0M1876.4 271.4h0M1877.2 263.3h0M1877.3 262.8h0M1878 265.7h0M1878.8 269.6h0M1879.6 272.9h0M1880.3 276.3h0M1880.6 278.1h0M1881.1 281.4h0M1881.9 287.6h0M1882.7 291.3h0M1883.5 297.8h0M1883.9 299.9h0M1884.3 301.8h0M1885.1 304.4h0M1885.9 308.6h0M1886.7 312.8h0M1887.5 316.1h0M1887.8 317.3h0M1888.3 312.9h0M1889.1 309.6h0M1889.9 303.9h0M1890.4 299.9h0M1891.5 273.7h0M1892.3 270.8h0M1893.1 264.9h0M1893.6 262.8h0M1895.4 262h0M1897 261.2h0M1898.6 262.5h0M1899.1 261.8h0M1899.4 262.8h0M1900 266.1h0M1901.8 265.3h0M1904.2 265.9h0M1906.6 267h0M1908.9 266.8h0M1911.3 265.6h0M1913.1 266.1h0M1914.5 263.5h0M1915.3 264.2h0M1916.1 262.5h0M1916.9 261.8h0M1917.4 260.7h0M1918.5 258h0M1919.3 256.6h0M1920.1 256.7h0M1920.9 254.8h0M1921.7 252.7h0M1922.4 253.2h0M1923.2 251.3h0M1924 249.8h0M1924.8 248.7h0M1925.6 245.5h0M1926.4 245.6h0M1927.2 242.3h0M1927.2 243.2h0M1928.8 245h0M1930.4 245h0M1932 245.7h0M1932.7 246.5h0M1934.4 245.5h0M1936 245.3h0M1937.5 242.7h0M1939.1 241.4h0M1939.2 242.2h0M1940.7 243.2h0M1942.3 243.6h0M1943.9 244.4h0M1945.5 245.6h0M1945.7 246.5h0M1947.1 246h0M1948.7 246.8h0M1950.3 247.6h0M1951.8 248.1h0M1952.3 248.7h0M1954.2 248.8h0M1955.8 247.3h0M1957.4 247.4h0M1959 246.3h0M1960.6 246.3h0M1961 246.5h0M1963 245.2h0M1964.6 245.4h0M1966.1 244.7h0M1967.7 246.1h0M1968.6 245.4h0M1970.1 247h0M1971.7 247.8h0M1973.3 250.1h0M1974 250.9h0M1975.7 253.2h0M1977.3 252.7h0M1978.9 255.6h0M1980.4 256h0M1980.6 256.3h0M1982 256.8h0M1983.6 258.1h0M1985.2 257.6h0M1986.8 258.4h0M1987.1 258.5h0M1989.2 258.5h0M1990.8 258.8h0M1992.4 257.1h0M1993.9 257.8h0M1995.5 257.3h0M1995.8 256.7h0M1997.1 256.7h0M1998.7 255.8h0M2000.3 255.3h0M2001.9 254.2h0M2003.5 254h0M2004.5 254.6h0M2005.9 254h0M2007.4 256h0M2009 255.5h0M2010 256.3h0M2010 268.3h0M2012.2 267.5h0M2014.6 267.4h0M2017 269h0M2019.4 269.1h0M2021.7 268.7h0M2024.1 267.8h0M2026.5 267.7h0M2028.9 267.8h0M2031.3 268.2h0M2033.7 267.5h0M2036 268.2h0M2038.4 267.8h0M2040.8 269.3h0M2043.2 269.3h0M2043.7 268.3h0M2044.8 266.8h0M2045.6 264.9h0M2046.4 265.3h0M2047.2 262.7h0M2048 261.6h0M2048.1 261.8h0M2049.6 260.3h0M2051.1 260.7h0M2052.4 260.7h0M2053.5 262.8h0M2054.3 264.4h0M2055.1 265.4h0M2055.7 267.2h0M2057.5 266.4h0M2059.1 264.6h0M2060.7 264.5h0M2062.3 263.4h0M2063.9 263.4h0M2065.4 261.9h0M2065.5 262.8h0M2067 260.8h0M2068.6 260.3h0M2070.2 259.1h0M2071.8 258.8h0M2072 258.5h0M2073.4 256.5h0M2074.2 255.8h0M2075 254.4h0M2075.8 253.4h0M2076.4 252h0M2077.4 247h0M2078.2 241.2h0M2078.6 238.9h0M2078.9 240h0M2079.7 244.6h0M2080.5 246h0M2080.7 247.6h0M2081.3 249.6h0M2082.1 251.6h0M2082.9 252.4h0M2083.7 256.2h0M2084 256.3h0M2084.5 258.6h0M2085.3 260.4h0M2086.1 263.1h0M2086.2 262.8h0M2086.9 262.1h0M2087.7 259.1h0M2088.5 258.3h0M2089.3 256.7h0M2089.5 256.3h0M2090.1 254h0M2090.9 250h0M2091.6 245.4h0M2091.6 234.5h0M2092.4 234.4h0M2094 232.3h0M2095.6 231.4h0M2096 230.2h0M2097.2 229.7h0M2098.8 228.5h0M2100.4 226.3h0M2102 224.7h0M2103.6 223.7h0M2104.7 223.6h0M2106 222.6h0M2107.5 221h0M2109.1 221.6h0M2110.7 220h0M2112.3 219.2h0M2113.4 218.2h0M2115.5 218.1h0M2117.1 217.9h0M2118.7 217.1h0M2120.3 215.7h0M2121.8 217.2h0M2123.4 216.7h0M2124.3 216h0M2125.8 216.4h0M2127.4 216.8h0M2129 217.4h0M2130.6 216.5h0M2132.2 218.3h0M2133.8 217.6h0M2134.1 218.2h0M2135.3 218.2h0M2136.9 219.8h0M2138.5 221.5h0M2139.3 219.8h0M2140.1 216.7h0M2140.6 216h0M2141.7 218.7h0M2142.5 220.8h0M2143.3 221.3h0M2143.9 222.6h0M2145.7 221.7h0M2147.2 221.5h0M2148.1 229.4h0M2148.3 231.3h0M2148.9 240.6h0M2148.9 241.1h0M2149.6 249h0M2150 252h0M2150.4 266.1h0M2151.2 276.8h0M2151.5 280.3h0M2152 282.1h0M2152.8 283.2h0M2153.6 285.8h0M2153.7 286.8h0M2154.4 289.3h0M2155.2 293.8h0M2155.2 293.3h0M2155.9 310.7h0M2156.5 333.6h0M2157 357.6h0M2158.1 382.6h0M2158.7 401.1h0M2159.6 382.6h0M2160 376.8h0M2160.8 366.5h0M2161.3 358.7h0M2161.6 355.1h0M2162.4 346.7h0M2163.1 340.1h0M2163.9 329h0M2164.6 321.6h0M2165.5 316.9h0M2166.3 312.7h0M2167.1 308.4h0M2167.4 306.4h0M2167.9 303.9h0M2168.7 301.1h0M2169.5 297.6h0M2170 295.5h0M2171.1 294.5h0M2172.7 292.3h0M2174.3 292.5h0M2174.8 291.1h0M2174.8 266.1h0M2176.7 265.8h0M2178.2 267.8h0M2179.8 268h0M2180.9 267.2h0M2181.4 268.6h0M2182.2 273.6h0M2183 278.3h0M2183.1 278.1h0M2184.6 277.9h0M2186.2 275.4h0M2187.8 273.7h0M2189.4 272.2h0M2189.6 272.6h0M2190.2 272.3h0M2191 268.7h0M2191.7 267.5h0M2191.8 267.2h0M2193.3 266.9h0M2194.9 268.3h0M2196.5 269.8h0M2198.1 268.5h0M2199.7 270.5h0M2201.3 270.4h0M2202.9 271.7h0M2204.5 271.9h0M2204.9 271.6h0M2206 270.4h0M2207.6 271h0M2209.2 269.3h0M2210.8 267.5h0M2212.4 266.7h0M2213.6 267.2h0M2215.6 266.6h0M2217.2 266h0M2218.8 265.2h0M2220.3 264.4h0M2221.9 264.3h0M2223.5 263.8h0M2224.5 263.9h0M2225.9 264.9h0M2227.5 263.3h0M2229.1 265.1h0M2230.7 265.6h0M2232.3 264.2h0M2233.9 266.2h0M2235.4 266h0M2237 266.6h0M2238.6 265.5h0M2239.7 266.1h0M2241.8 265.8h0M2244.2 265.9h0M2246.6 267.2h0M2248.9 266.3h0M2251.3 265.8h0M2253.7 265.9h0M2256.1 265.6h0M2258.5 265.1h0M2259.3 266.1h0M2260.9 265.8h0M2262.5 268h0M2264 267.4h0M2265.6 269.4h0M2267.2 268.5h0M2268 269.4h0M2269.6 268.4h0M2271.2 268.4h0M2272.8 267.3h0M2274.4 267.2h0M2276 268h0M2277.5 267.4h0M2278.9 266.1h0M2279.9 267.5h0M2281.5 268.2h0M2283.1 270h0M2284.7 271.2h0M2286.3 271.5h0M2286.5 271.6h0M2287.9 271h0M2289.5 268.2h0M2291 268.5h0M2292 267.2h0M2294.2 266.9h0M2295.8 267.5h0M2297.4 267.2h0M2299 266.3h0M2300.6 265.7h0M2302.2 267.5h0M2303.8 265.6h0M2305.3 266.3h0M2306.9 265.9h0M2308.5 265.7h0M2309.4 266.1h0M2310.9 264.9h0M2311.7 264.5h0M2312.5 262h0M2313.3 261.9h0M2314.1 260.2h0M2314.9 259.8h0M2315.7 258.6h0M2315.9 258.5h0M2318.1 257.8h0M2320.4 257.7h0M2322.5 258.5h0M2323.6 258.4h0M2325.2 260.7h0M2326.8 260.6h0M2328.4 260.8h0M2330 263.1h0M2331.6 264.1h0M2333.2 263.7h0M2333.4 263.9h0M2334.7 263.8h0M2336.3 264.7h0M2337.9 265.3h0M2339.5 266.7h0M2339.9 267.2h0M2341.9 266.3h0M2344.3 266.6h0M2346.7 266.7h0M2349 267.3h0M2351.4 268h0M2353.8 267.7h0M2356.2 267h0M2357.3 267.2h0M2359.4 266.5h0M2361 266.3h0M2362.5 265.6h0M2364.1 265.1h0M2365.7 264.1h0M2366 265h0M2366.5 260.6h0M2367.1 256.3h0M2368.1 256.6h0M2369.7 253.5h0M2371.3 253.2h0M2372.9 252.3h0M2374.5 251.6h0M2375.8 249.8h0M2376.8 250.5h0M2377.6 251.7h0M2378.4 252.7h0M2379.2 254.1h0M2380 255.2h0M2380.8 257.4h0M2381.6 258.3h0M2382.4 258.5h0M2384 258.7h0M2385.6 256.1h0M2387.2 255.5h0M2387.8 256.3h0M2387.8 267.2h0M2389.6 267.6h0M2391.1 267.9h0M2392.7 266.9h0M2394.3 267.1h0M2395.9 265.7h0M2397.5 266.5h0M2397.6 266.8h0"/>
<g font-size="59.3" fill="#000">
<text x="1432" y="534.2" text-anchor="middle">0</text>
<text x="1590.9" y="534.2" text-anchor="middle">200</text>
<text x="1749.8" y="534.2" text-anchor="middle">400</text>
<text x="1908.6" y="534.2" text-anchor="middle">600</text>
<text x="2067.5" y="534.2" text-anchor="middle">800</text>
<text x="2226.4" y="534.2" text-anchor="middle">1000</text>
<text x="2385.3" y="534.2" text-anchor="middle">1200</text>
<text x="1401.2" y="100.8" text-anchor="end">10</text>
<text x="1401.2" y="288.3" text-anchor="end">0</text>
<text x="1401.2" y="475.8" text-anchor="end">-10</text>
</g>
<rect x="1646.6" y="28" width="518.6" height="151.9" fill="#fff" stroke="#262626" stroke-width="1.7"/>
<path d="M1659.2 68.8h127.5" stroke="#000" stroke-width="4.6" stroke-dasharray="25.5 15.2" fill="none"/>
<text x="1795.9" y="91.6" font-size="52.8" fill="#000">2<tspan class="sg" font-size="46" dx="1.2" dy="0.6" textLength="28.8" lengthAdjust="spacingAndGlyphs">σ</tspan><tspan dx="1.5" dy="-0.6"> bound</tspan></text>
<path d="M1659.2 139.6h127.5" stroke="#000" stroke-width="4.6" stroke-dasharray="25.5 15.2" fill="none"/>
<text x="1795.8" y="161" font-size="52.8" fill="#000">RMS: 0.9671m</text>
</g>
<g id="p4">
<path d="M1431.8 615.1V989.8M1588.6 615.1V989.8M1745.4 615.1V989.8M1902.2 615.1V989.8M2059 615.1V989.8M2215.8 615.1V989.8M2372.6 615.1V989.8M1421.8 802.5H2383.1" stroke="#cbcbcb" stroke-width="1.6" stroke-dasharray="1.3 1.3" fill="none"/>
<rect x="1421.8" y="615.1" width="961.3" height="374.7" fill="none" stroke="#262626" stroke-width="1.9"/>
<path d="M1431.8 989.8v-10 M1431.8 615.1v10M1588.6 989.8v-10 M1588.6 615.1v10M1745.4 989.8v-10 M1745.4 615.1v10M1902.2 989.8v-10 M1902.2 615.1v10M2059 989.8v-10 M2059 615.1v10M2215.8 989.8v-10 M2215.8 615.1v10M2372.6 989.8v-10 M2372.6 615.1v10M1421.8 802.5h10 M2383.1 802.5h-10" stroke="#262626" stroke-width="1.9" fill="none"/>
<g clip-path="url(#cp4)" fill="none" stroke="#000" stroke-width="4.3" stroke-dasharray="25 16" stroke-linejoin="round"><polyline points="1421.7,615.1 1422.6,615.1 1423,798 1437.4,798 1438.5,777.4 1445,777.4 1446.1,795.9 1451.6,795.9 1452.7,779.5 1457,779.5 1458.1,793.7 1461.4,789.3 1481,789.3 1482.1,782.8 1484.2,782.8 1485.3,793.7 1490.8,793.7 1491.9,785 1494,785 1495.1,793.7 1508.2,793.7 1509.3,782.8 1518,781.7 1527.8,778.4 1537.6,775.2 1545.2,779.5 1546.3,793.7 1557.2,793.7 1558.3,785 1563.7,774.1 1580.1,773 1590.9,776.3 1592,791.5 1600.7,791.5 1601.8,793.7 1629.1,793.7 1630.1,782.8 1642.1,769.7 1650.8,762.1 1657.4,766.5 1666.1,771.9 1669.3,787.2 1680.2,787.2 1681.3,769.7 1687.9,774.1 1688.9,791.5 1692.2,791.5 1693.3,776.3 1695.5,776.3 1696.6,791.5 1700.9,791.5 1703.1,778.4 1707.5,776.3 1709.6,791.5 1718.3,791.5 1719.4,769.7 1735.8,758.8 1753.2,762.1 1777.1,763.2 1790.2,758.8 1798.9,753.4 1803.3,758.8 1809.8,766.5 1812,750.1 1821.8,750.1 1827.2,740.3 1829.4,745.8 1835.9,734.9 1839.2,756.7 1846.8,752.3 1856.6,739.2 1859.9,748 1873,750.1 1879.5,730.5 1883.9,734.9 1886,754.5 1890.4,778.4 1892.6,793.7 1896.9,793.7 1898,780.6 1900,774.1 1908.7,774.1 1913.1,769.7 1921.8,757.8 1928.3,767.6 1941.4,773 1963.2,778.4 1982.8,781.7 2002.4,783.9 2003.4,795.9 2020.9,795.9 2022,789.3 2038.3,789.3 2039.4,795.9 2045.9,795.9 2048.1,785 2052.4,778.4 2062.2,769.7 2072,761 2082.9,755.6 2104.7,755.6 2124.3,756.7 2135.2,758.8 2141.7,755.6 2149.3,752.3 2158.1,767.6 2161.3,780.6 2164.6,782.8 2165.7,795.9 2170,795.9 2172.2,776.3 2176.6,776.3 2177.7,793.7 2183.1,793.7 2184.2,780.6 2187.5,780.6 2188.5,791.5 2194,791.5 2195.1,787.2 2201.6,785 2204.9,774.1 2215.8,776.3 2217.9,789.3 2221.2,789.3 2222.3,778.4 2228.8,778.4 2229.9,793.7 2243,793.7 2244.1,780.6 2252.8,780.6 2253.9,793.7 2259.3,793.7 2261.5,791.5 2270.2,791.5 2271.3,795.9 2274.6,795.9 2275.7,780.6 2289.8,780.6 2292,785 2298.5,778.4 2305.1,774.1 2311.6,777.4 2312.7,795.9 2318.1,795.9 2319.2,780.6 2321.4,780.6 2322.5,794.8 2345.3,794.8 2346.4,781.7 2357.3,780.6 2364.9,776.3 2366,793.7 2374.7,793.7 2375.8,786.1 2376.9,786.1 2378,798 2384.5,798"/><polyline stroke-dashoffset="4" points="1421.7,989.8 1422.6,989.8 1423,806.8 1437.4,806.8 1438.5,827.4 1445,827.4 1446.1,808.9 1451.6,808.9 1452.7,825.3 1457,825.3 1458.1,811.1 1461.4,815.5 1481,815.5 1482.1,822 1484.2,822 1485.3,811.1 1490.8,811.1 1491.9,819.8 1494,819.8 1495.1,811.1 1508.2,811.1 1509.3,822 1518,823.1 1527.8,826.4 1537.6,829.6 1545.2,825.3 1546.3,811.1 1557.2,811.1 1558.3,819.8 1563.7,830.7 1580.1,831.8 1590.9,828.5 1592,813.3 1600.7,813.3 1601.8,811.1 1629.1,811.1 1630.1,822 1642.1,835.1 1650.8,842.7 1657.4,838.3 1666.1,832.9 1669.3,817.6 1680.2,817.6 1681.3,835.1 1687.9,830.7 1688.9,813.3 1692.2,813.3 1693.3,828.5 1695.5,828.5 1696.6,813.3 1700.9,813.3 1703.1,826.4 1707.5,828.5 1709.6,813.3 1718.3,813.3 1719.4,835.1 1735.8,846 1753.2,842.7 1777.1,841.6 1790.2,846 1798.9,851.4 1803.3,846 1809.8,838.3 1812,854.7 1821.8,854.7 1827.2,864.5 1829.4,859 1835.9,869.9 1839.2,848.1 1846.8,852.5 1856.6,865.6 1859.9,856.8 1873,854.7 1879.5,874.3 1883.9,869.9 1886,850.3 1890.4,826.4 1892.6,811.1 1896.9,811.1 1898,824.2 1900,830.7 1908.7,830.7 1913.1,835.1 1921.8,847 1928.3,837.2 1941.4,831.8 1963.2,826.4 1982.8,823.1 2002.4,820.9 2003.4,808.9 2020.9,808.9 2022,815.5 2038.3,815.5 2039.4,808.9 2045.9,808.9 2048.1,819.8 2052.4,826.4 2062.2,835.1 2072,843.8 2082.9,849.2 2104.7,849.2 2124.3,848.1 2135.2,846 2141.7,849.2 2149.3,852.5 2158.1,837.2 2161.3,824.2 2164.6,822 2165.7,808.9 2170,808.9 2172.2,828.5 2176.6,828.5 2177.7,811.1 2183.1,811.1 2184.2,824.2 2187.5,824.2 2188.5,813.3 2194,813.3 2195.1,817.6 2201.6,819.8 2204.9,830.7 2215.8,828.5 2217.9,815.5 2221.2,815.5 2222.3,826.4 2228.8,826.4 2229.9,811.1 2243,811.1 2244.1,824.2 2252.8,824.2 2253.9,811.1 2259.3,811.1 2261.5,813.3 2270.2,813.3 2271.3,808.9 2274.6,808.9 2275.7,824.2 2289.8,824.2 2292,819.8 2298.5,826.4 2305.1,830.7 2311.6,827.4 2312.7,808.9 2318.1,808.9 2319.2,824.2 2321.4,824.2 2322.5,810 2345.3,810 2346.4,823.1 2357.3,824.2 2364.9,828.5 2366,811.1 2374.7,811.1 2375.8,818.7 2376.9,818.7 2378,806.8 2384.5,806.8"/></g>
<polyline fill="none" stroke="#FF0000" stroke-width="2.2" stroke-linejoin="round" points="1420,802.4 1437.4,801.4 1452.7,802.4 1455.9,812.2 1460.3,802.4 1507.1,801.4 1524.5,800.3 1537.6,795.9 1544.1,800.3 1557.2,802.4 1559.4,791.6 1563.7,776.3 1567,772 1570.3,780.7 1574.6,795.9 1579,805.7 1588.8,811.1 1592,802.4 1630.1,802.4 1631.2,819.9 1637.8,818.8 1642.1,823.1 1646.5,817.7 1649.7,795.9 1657.4,789.4 1659.5,778.5 1661.3,761.1 1665,769.8 1668.3,776.3 1671.5,789.4 1674.8,804.6 1675.9,794.8 1685.7,798.1 1687.9,802.4 1703.1,803.5 1708.5,795.9 1720.5,801.4 1731.4,805.7 1744.5,812.2 1755.4,813.3 1768.4,812.9 1781.5,814.4 1789.1,820.9 1793.5,811.1 1794.6,791.6 1796.7,779.6 1800.7,770.9 1803.3,780.7 1805.5,786.1 1807.6,772 1810.9,752.4 1813.1,741.5 1813.7,772 1815.3,786.1 1818.5,772 1821.8,764.3 1821.8,818.8 1825.1,823.1 1829.4,831.8 1832.7,829.7 1834.9,846 1837,862.3 1837,809 1840.3,802.4 1845.7,793.7 1851.2,783.3 1851.6,800.3 1855.5,806.8 1862.1,817.7 1866.4,822 1869.7,835.1 1871.9,848.2 1874.1,863.4 1876.2,878.7 1878.4,893.9 1879.9,909.1 1881.2,921.1 1882.1,867.8 1882.8,842.7 1884.9,851.4 1885.6,831.8 1886,817.7 1887.1,806.8 1894.7,801.4 1899.1,800.3 1900,802.4 1908.7,801.4 1914.2,793.7 1916.3,780.7 1919.6,764.3 1922.9,776.3 1928.3,789.4 1934.8,802.4 1941.4,811.1 1947.9,815.5 1956.6,817.2 1963.2,816.6 1969.7,809 1978.4,801.4 1995.8,800.3 2004.5,802.4 2037.2,803.5 2041.6,810.1 2048.1,806.8 2052.4,800.3 2059,800.3 2062.2,806.8 2066.6,822 2068.8,837.3 2070.9,850.3 2073.1,837.3 2075.3,819.9 2078.6,811.6 2081.8,819.9 2084,828.6 2086.2,838.4 2091.6,841.6 2100.3,849.3 2108,853.6 2117.8,853.6 2124.3,851.4 2130.8,847.1 2138.5,844.3 2145,846 2145.6,852.5 2148.3,860.1 2150.4,873.2 2152.6,862.3 2153.7,853.6 2154.8,841.6 2157,828.6 2160.2,819.9 2165.2,816.6 2165.2,802.4 2183.1,803.5 2200.5,802.4 2207.1,806.8 2212.5,811.1 2217.9,802.4 2248.4,801.4 2270.2,802.4 2278.9,800.3 2292,801.4 2298.5,799.2 2305.1,803.5 2313.8,802.4 2350.8,802 2354.1,811.1 2358.4,815.5 2361.7,811.1 2362.8,800.3 2363.9,788.3 2368.2,791.6 2374.7,794.8 2375.8,802.4 2384.5,802.4"/>
<path fill="none" stroke="#FF0000" stroke-width="9.0" stroke-linecap="round" d="M1420 802.4h0M1422.2 801.9h0M1423.7 801.4h0M1425.3 802.4h0M1426.9 801.1h0M1428.4 802h0M1430 801.5h0M1431.6 800.7h0M1433.2 801.6h0M1434.7 800.5h0M1436.3 801.3h0M1437.4 801.4h0M1439.4 800.5h0M1441 800.7h0M1442.6 801.6h0M1444.1 802.5h0M1445.7 801.1h0M1447.3 801.4h0M1448.8 802.4h0M1450.4 803.3h0M1452 802.6h0M1452.7 802.4h0M1453.5 804.8h0M1454.3 808.5h0M1455.1 808.8h0M1455.9 812.9h0M1455.9 812.2h0M1456.7 810.1h0M1457.5 808h0M1458.2 806.2h0M1459 804.9h0M1459.8 804.2h0M1460.3 802.4h0M1462.2 801.7h0M1463.7 802.5h0M1465.3 802.6h0M1466.9 802h0M1468.4 802.4h0M1470 801.3h0M1471.6 801.2h0M1473.1 801.5h0M1474.7 802.5h0M1476.3 801.9h0M1477.8 801.6h0M1479.4 802.2h0M1481 801.9h0M1482.5 801.5h0M1484.1 802.5h0M1485.7 802.3h0M1487.2 801.2h0M1488.8 801.9h0M1490.4 801.8h0M1492 802.5h0M1493.5 802.2h0M1495.1 801.2h0M1496.7 802.6h0M1498.2 800.7h0M1499.8 801.3h0M1501.4 802h0M1502.9 800.7h0M1504.5 801.4h0M1506.1 800.4h0M1507.1 801.4h0M1509.2 801.6h0M1510.8 801.7h0M1512.3 801.2h0M1513.9 801.8h0M1515.5 800.4h0M1517 801.2h0M1518.6 800.8h0M1520.2 800.7h0M1521.7 800.3h0M1523.3 801.1h0M1524.5 800.3h0M1526.4 800.6h0M1528 799h0M1529.6 798.9h0M1531.2 797.1h0M1532.7 798h0M1534.3 797.3h0M1535.9 797.6h0M1537.4 796.7h0M1537.6 795.9h0M1539 796.4h0M1540.6 797.6h0M1542.1 799.3h0M1543.7 798.9h0M1544.1 800.3h0M1546 800.5h0M1547.6 800.1h0M1549.2 800.3h0M1550.8 800.4h0M1552.3 802.2h0M1553.9 801.1h0M1555.5 801.6h0M1557 802.2h0M1557.2 802.4h0M1557.8 800.2h0M1558.6 794.5h0M1559.4 791.6h0M1560.2 788.7h0M1560.9 786.2h0M1561.7 784.2h0M1562.5 781.3h0M1563.3 778.6h0M1563.7 776.3h0M1564.9 774.3h0M1565.6 773.6h0M1566.4 772.4h0M1567 772h0M1568 775.5h0M1568.8 777.7h0M1569.6 778h0M1570.3 780.7h0M1571.1 783h0M1571.9 785.9h0M1572.7 788.6h0M1573.5 791.9h0M1574.3 794.9h0M1574.6 795.9h0M1575.8 798.1h0M1576.6 799.3h0M1577.4 802h0M1578.2 803.7h0M1579 805.7h0M1580.5 806.7h0M1582.1 808.4h0M1583.7 808.7h0M1585.2 809.2h0M1586.8 810.3h0M1588.4 811.3h0M1588.8 811.1h0M1590 807h0M1590.7 806.8h0M1591.5 804.4h0M1592 802.4h0M1593.9 803.3h0M1596.2 803.1h0M1598.6 802.2h0M1600.9 802.2h0M1603.3 801.6h0M1605.6 802.7h0M1608 801.5h0M1610.3 801.5h0M1612.7 801.8h0M1615 801.7h0M1617.4 802.1h0M1619.7 801.5h0M1622.1 801.3h0M1624.4 801.7h0M1626.8 801.6h0M1629.2 802.1h0M1630.1 802.4h0M1630.7 810.5h0M1631.2 819.9h0M1633.1 820.4h0M1634.6 819.5h0M1636.2 818.3h0M1637.8 818.8h0M1639.3 819.8h0M1640.9 821.6h0M1642.1 823.1h0M1643.3 821.4h0M1644 819.9h0M1644.8 820.5h0M1645.6 819.8h0M1646.4 817.7h0M1646.5 817.7h0M1647.2 813h0M1648 806.9h0M1648.8 801.7h0M1649.5 797h0M1649.7 795.9h0M1651.1 794.2h0M1652.7 794.1h0M1654.2 791.3h0M1655.8 789.7h0M1657.4 789.4h0M1658.2 786.4h0M1658.9 781.6h0M1659.5 778.5h0M1659.7 775.9h0M1660.5 768.9h0M1661.3 761.1h0M1662.1 761.9h0M1662.9 764.8h0M1663.6 767.7h0M1664.4 769.3h0M1665 769.8h0M1666 772.2h0M1666.8 772.8h0M1667.6 774.6h0M1668.3 776.3h0M1669.1 779.1h0M1669.9 783.6h0M1670.7 786.2h0M1671.5 789.8h0M1671.5 789.4h0M1672.3 792.5h0M1673.1 795.9h0M1673.8 800.9h0M1674.6 804.9h0M1674.8 804.6h0M1675.4 799.8h0M1675.9 794.8h0M1677.8 796.1h0M1679.3 796.7h0M1680.9 797h0M1682.5 796.4h0M1684 797.6h0M1685.6 797.7h0M1685.7 798.1h0M1686.4 798.5h0M1687.2 800h0M1687.9 802.4h0M1689.5 802.1h0M1691.1 802.1h0M1692.7 803.2h0M1694.2 803.9h0M1695.8 802.9h0M1697.4 804.1h0M1698.9 804.3h0M1700.5 804.3h0M1702.1 803.2h0M1703.1 803.5h0M1704.4 801.1h0M1705.2 800h0M1706 798.8h0M1706.8 797.7h0M1707.6 797.6h0M1708.3 797.1h0M1708.5 795.9h0M1709.9 797.3h0M1711.5 797.2h0M1713 798.3h0M1714.6 799.3h0M1716.2 798.5h0M1717.7 800.4h0M1719.3 801.7h0M1720.5 801.4h0M1722.4 802.7h0M1724 803.3h0M1725.6 803.3h0M1727.2 803.3h0M1728.7 805.3h0M1730.3 804.9h0M1731.4 805.7h0M1732.6 807h0M1734.2 808.1h0M1735.8 807.7h0M1737.3 808.5h0M1738.9 810.4h0M1740.5 810.7h0M1742 810.3h0M1743.6 811h0M1744.5 812.2h0M1746 811.6h0M1747.5 813.4h0M1749.1 813.4h0M1750.7 812.1h0M1752.2 813.7h0M1753.8 814.2h0M1755.4 813.3h0M1756.9 813.6h0M1758.5 812.9h0M1760.1 813.3h0M1761.6 812.3h0M1763.2 812h0M1764.8 814h0M1766.4 813.3h0M1767.9 813h0M1768.4 812.9h0M1770.3 814.1h0M1771.8 813.1h0M1773.4 814.3h0M1775 814.4h0M1776.5 813.2h0M1778.1 813.5h0M1779.7 813.7h0M1781.2 813.8h0M1781.5 814.4h0M1782.8 815.7h0M1784.4 816.4h0M1786 818.1h0M1787.5 818.8h0M1789.1 821.8h0M1789.1 820.9h0M1789.9 818.9h0M1790.7 817.4h0M1791.4 815.9h0M1792.2 814.9h0M1793 812h0M1793.5 811.1h0M1793.8 806.4h0M1794.6 791.6h0M1795.4 787.2h0M1796.1 782.9h0M1796.7 779.6h0M1797.7 777.5h0M1798.5 774.6h0M1799.3 773.8h0M1800.1 771.5h0M1800.7 770.9h0M1801.6 773.4h0M1802.4 778.1h0M1803.2 779.7h0M1803.3 780.7h0M1804 782.4h0M1804.8 784.9h0M1805.5 786.1h0M1806.3 780.5h0M1807.1 774.9h0M1807.6 772h0M1807.9 770.4h0M1808.7 765.7h0M1809.5 761.5h0M1810.3 755.3h0M1810.9 752.4h0M1811.8 747.9h0M1812.6 743.2h0M1813.1 741.5h0M1813.7 772h0M1814.2 775.6h0M1815 784h0M1815.3 786.1h0M1815.7 784h0M1816.5 780.7h0M1817.3 777.8h0M1818.1 774.7h0M1818.5 772h0M1819.7 769.2h0M1820.4 767.7h0M1821.2 765.6h0M1821.8 764.3h0M1821.8 818.8h0M1822.8 820.2h0M1823.6 821.6h0M1824.4 822.1h0M1825.1 823.1h0M1825.9 825h0M1826.7 826.4h0M1827.5 829h0M1828.3 830h0M1829.1 832h0M1829.4 831.8h0M1830.6 832h0M1832.2 829.4h0M1832.7 829.7h0M1833 832.2h0M1833.8 838.9h0M1834.6 844.6h0M1834.9 846h0M1835.3 848.9h0M1836.1 854.7h0M1836.9 861.3h0M1837 862.3h0M1837 809h0M1837.7 806.7h0M1838.5 805.5h0M1839.3 803.6h0M1840 803.3h0M1840.3 802.4h0M1841.6 801h0M1842.4 799.9h0M1843.2 797.1h0M1844 797h0M1844.8 795.7h0M1845.5 793.3h0M1845.7 793.7h0M1846.3 793.5h0M1847.1 792.1h0M1847.9 789h0M1848.7 789.1h0M1849.5 786.4h0M1850.2 785.1h0M1851 784.7h0M1851.2 783.3h0M1851.6 800.3h0M1852.6 802.6h0M1853.4 802.4h0M1854.2 804.3h0M1854.9 805.8h0M1855.5 806.8h0M1856.5 808.1h0M1857.3 809.1h0M1858.1 810.6h0M1858.9 812.8h0M1859.6 812.6h0M1860.4 815.1h0M1861.2 816.1h0M1862 816.5h0M1862.1 817.7h0M1863.6 818.8h0M1865.1 821h0M1866.4 822h0M1867.5 826.3h0M1868.3 828.5h0M1869.1 833.6h0M1869.7 835.1h0M1870.6 841.3h0M1871.4 846.4h0M1871.9 848.2h0M1872.2 849.5h0M1873 855.4h0M1873.8 860.4h0M1874.1 863.4h0M1874.5 867.5h0M1875.3 871.9h0M1876.1 877h0M1876.2 878.7h0M1876.9 883.2h0M1877.7 889.7h0M1878.4 893.9h0M1879.2 903h0M1879.9 909.1h0M1880.8 916.7h0M1881.2 921.1h0M1882.1 867.8h0M1882.8 842.7h0M1883.2 843.6h0M1884 848.4h0M1884.7 850.8h0M1884.9 851.4h0M1885.6 831.8h0M1886 817.7h0M1886.3 815.4h0M1887.1 806.2h0M1887.1 806.8h0M1888.7 804.7h0M1890.2 805h0M1891.8 803.3h0M1893.4 801.4h0M1894.7 801.4h0M1896.5 801.9h0M1898.1 800.8h0M1899.1 800.3h0M1899.6 802.2h0M1900 802.4h0M1902 801.3h0M1903.6 802.8h0M1905.1 800.8h0M1906.7 802.4h0M1908.3 801.3h0M1908.7 801.4h0M1909.8 799.4h0M1910.6 798.8h0M1911.4 798.5h0M1912.2 796h0M1913 794.6h0M1913.7 794.4h0M1914.2 793.7h0M1914.5 790.9h0M1915.3 785.9h0M1916.1 781.3h0M1916.3 780.7h0M1916.9 776.9h0M1917.7 773.3h0M1918.4 769.7h0M1919.2 765.7h0M1919.6 764.3h0M1920 766.4h0M1920.8 768.3h0M1921.6 771.6h0M1922.4 773.8h0M1922.9 776.3h0M1923.9 778.5h0M1924.7 779.7h0M1925.5 782.1h0M1926.3 783.5h0M1927.1 786.9h0M1927.9 788.4h0M1928.3 789.4h0M1929.4 790.9h0M1930.2 793.1h0M1931 795.7h0M1931.8 795.4h0M1932.6 798.6h0M1933.3 799.3h0M1934.1 801h0M1934.8 802.4h0M1935.7 804.3h0M1936.5 804.4h0M1937.3 805.7h0M1938 807.1h0M1938.8 808.8h0M1939.6 808.5h0M1940.4 810.6h0M1941.2 811.3h0M1941.4 811.1h0M1942.8 812.4h0M1944.3 812.9h0M1945.9 813.8h0M1947.5 814.2h0M1947.9 815.5h0M1949.8 815.1h0M1951.4 815.3h0M1952.9 817h0M1954.5 816.3h0M1956.1 816.4h0M1956.6 817.2h0M1958.4 816.2h0M1960 817.7h0M1961.6 817.6h0M1963.1 817h0M1963.2 816.6h0M1963.9 815.2h0M1964.7 814.2h0M1965.5 813.4h0M1966.3 812.9h0M1967.1 811.3h0M1967.8 811h0M1968.6 809.7h0M1969.4 810.3h0M1969.7 809h0M1971 808.9h0M1972.5 806.6h0M1974.1 804.5h0M1975.7 804.8h0M1977.2 801.9h0M1978.4 801.4h0M1980.4 800.9h0M1982 800h0M1983.5 800.8h0M1985.1 800.9h0M1986.7 800.8h0M1988.2 800.1h0M1989.8 800.6h0M1991.4 799.5h0M1992.9 799.9h0M1994.5 799.4h0M1995.8 800.3h0M1997.6 800.5h0M1999.2 800.1h0M2000.8 800.4h0M2002.3 801.5h0M2003.9 801.7h0M2004.5 802.4h0M2006.3 802.7h0M2007.8 802.6h0M2009.4 803.2h0M2011 803h0M2012.5 803.2h0M2014.1 803.6h0M2015.7 802.6h0M2017.2 802.5h0M2018.8 804h0M2020.4 802.2h0M2021.9 803.5h0M2023.5 803.4h0M2025.1 802.1h0M2026.6 803.9h0M2028.2 804.1h0M2029.8 803.6h0M2031.3 803.8h0M2032.9 804.1h0M2034.5 802.6h0M2036 803.5h0M2037.2 803.5h0M2038.4 805.3h0M2039.2 807.2h0M2040 808.4h0M2040.8 809.6h0M2041.5 810.2h0M2041.6 810.1h0M2043.1 810.1h0M2044.7 808.9h0M2046.2 808.1h0M2047.8 806.3h0M2048.1 806.8h0M2049.4 803.8h0M2050.2 802.9h0M2050.9 802.2h0M2051.7 800.5h0M2052.4 800.3h0M2054.1 801h0M2056.4 800.4h0M2058.8 800.5h0M2059 800.3h0M2059.6 801.7h0M2060.4 803.4h0M2061.1 804.6h0M2061.9 805.1h0M2062.2 806.8h0M2062.7 809.1h0M2063.5 811.7h0M2064.3 813.9h0M2065.1 816.7h0M2065.8 819.7h0M2066.6 822h0M2067.4 826.8h0M2068.2 833.7h0M2068.8 837.3h0M2069.8 842.7h0M2070.5 847h0M2070.9 850.3h0M2071.3 847.6h0M2072.1 843.9h0M2072.9 838h0M2073.1 837.3h0M2073.7 833.4h0M2074.5 827.6h0M2075.2 820.3h0M2075.3 819.9h0M2076 817.8h0M2076.8 816h0M2077.6 814.5h0M2078.4 812.6h0M2078.6 811.6h0M2079.2 813.4h0M2080 815.4h0M2080.7 816.1h0M2081.5 818.3h0M2081.8 819.9h0M2082.3 821.2h0M2083.1 825.4h0M2083.9 827.6h0M2084 828.6h0M2084.7 831.6h0M2085.4 833.9h0M2086.2 838.4h0M2087.8 838.4h0M2089.4 839.8h0M2090.9 841.6h0M2091.6 841.6h0M2092.5 842.8h0M2094.1 844.1h0M2095.6 844.7h0M2097.2 846.5h0M2098.8 847.8h0M2100.3 849.2h0M2100.3 849.3h0M2101.9 849.3h0M2103.5 851.9h0M2105 851.3h0M2106.6 853.9h0M2108 853.6h0M2109.7 854.6h0M2112.1 852.6h0M2114.4 853.5h0M2116.8 854.3h0M2117.8 853.6h0M2119.2 854.2h0M2120.7 852.5h0M2122.3 851.6h0M2123.9 850.9h0M2124.3 851.4h0M2125.4 851.7h0M2127 849h0M2128.6 848.8h0M2130.1 846.8h0M2130.8 847.1h0M2132.5 846.5h0M2134 846.9h0M2135.6 844.5h0M2137.2 845.4h0M2138.5 844.3h0M2140.3 844.8h0M2141.9 846h0M2143.5 846h0M2145 846h0M2145.6 852.5h0M2146.6 854.7h0M2147.4 858.5h0M2148.2 859.8h0M2148.3 860.1h0M2148.9 863.2h0M2149.7 867.9h0M2150.4 873.2h0M2151.3 868.9h0M2152.1 864.9h0M2152.6 862.3h0M2152.9 859.9h0M2153.6 853.3h0M2153.7 853.6h0M2154.4 845.2h0M2154.8 841.6h0M2155.2 838.7h0M2156 835.1h0M2156.8 828.6h0M2157 828.6h0M2157.6 827.5h0M2158.4 825.6h0M2159.1 822h0M2159.9 821.6h0M2160.2 819.9h0M2161.5 819.5h0M2163.1 818.9h0M2164.6 816.5h0M2165.2 816.6h0M2165.2 802.4h0M2167 802.3h0M2168.5 802.4h0M2170.1 803.8h0M2171.7 803h0M2173.2 802.6h0M2174.8 802.9h0M2176.4 802.6h0M2178 802.2h0M2179.5 802.4h0M2181.1 804.1h0M2182.7 803h0M2183.1 803.5h0M2185 804.4h0M2186.6 802.8h0M2188.1 802.7h0M2189.7 803.1h0M2191.3 802.3h0M2192.8 802.6h0M2194.4 803.8h0M2196 803.6h0M2197.6 803.3h0M2199.1 802.8h0M2200.5 802.4h0M2202.3 804.5h0M2203.8 805.6h0M2205.4 805.8h0M2207 807.2h0M2207.1 806.8h0M2208.5 807h0M2210.1 809.7h0M2211.7 810.4h0M2212.5 811.1h0M2213.2 810.5h0M2214 809h0M2214.8 807h0M2215.6 805.2h0M2216.4 805.9h0M2217.2 802.9h0M2217.9 802.4h0M2217.9 802.4h0M2219.5 802h0M2221.1 801.9h0M2222.6 802.8h0M2224.2 803.3h0M2225.8 801.6h0M2227.3 802.4h0M2228.9 801.6h0M2230.5 802.1h0M2232 801.7h0M2233.6 801.1h0M2235.2 801.1h0M2236.8 801.1h0M2238.3 802.6h0M2239.9 801.6h0M2241.5 801h0M2243 802.4h0M2244.6 802.6h0M2246.2 801.3h0M2247.7 800.6h0M2248.4 801.4h0M2250.1 800.8h0M2251.6 800.6h0M2253.2 801.2h0M2254.8 800.8h0M2256.4 801.2h0M2257.9 801.3h0M2259.5 802.1h0M2261.1 802.8h0M2262.6 802.6h0M2264.2 801.9h0M2265.8 802h0M2267.3 802.3h0M2268.9 802.1h0M2270.2 802.4h0M2272 801.6h0M2273.6 800.6h0M2275.2 800.7h0M2276.7 801.8h0M2278.3 799.6h0M2278.9 800.3h0M2280.7 800.4h0M2282.2 800.8h0M2283.8 801.5h0M2285.4 800.2h0M2286.9 800.4h0M2288.5 800.5h0M2290.1 801h0M2291.6 801.2h0M2292 801.4h0M2293.2 801.9h0M2294.8 801.2h0M2296.3 800.7h0M2297.9 798.3h0M2298.5 799.2h0M2300.3 799.3h0M2301.8 801.8h0M2303.4 803.3h0M2305 803.4h0M2305.1 803.5h0M2306.5 803.5h0M2308.1 802h0M2309.7 802.7h0M2311.2 803.7h0M2312.8 803.3h0M2313.8 802.4h0M2315.9 803.2h0M2318.3 803.4h0M2320.6 801.8h0M2323 801.5h0M2325.3 801.5h0M2327.7 802.3h0M2330 802.6h0M2332.4 803.2h0M2334.8 802.7h0M2337.1 802.5h0M2339.5 802.7h0M2341.8 802h0M2344.2 802.2h0M2346.5 801h0M2348.9 802.6h0M2350.8 802h0M2351.2 802.6h0M2352 806.3h0M2352.8 807.9h0M2353.6 809.4h0M2354.1 811.1h0M2355.1 811.4h0M2356.7 813.3h0M2358.3 815.7h0M2358.4 815.5h0M2359.8 814h0M2360.6 811.7h0M2361.4 810.6h0M2361.7 811.1h0M2362.2 806h0M2362.8 800.3h0M2363 798.1h0M2363.8 789h0M2363.9 788.3h0M2365.3 788.8h0M2366.9 790.8h0M2368.2 791.6h0M2370 791.4h0M2371.6 792.8h0M2373.2 793.9h0M2374.7 795.8h0M2374.7 794.8h0M2375.5 800.6h0M2375.8 802.4h0M2377.9 803.3h0M2380.2 802.4h0M2382.6 801.9h0M2384.5 802.4h0"/>
<g font-size="59.3" fill="#262626">
<text x="1431.8" y="1070.5" text-anchor="middle">0</text>
<text x="1588.6" y="1070.5" text-anchor="middle">200</text>
<text x="1745.4" y="1070.5" text-anchor="middle">400</text>
<text x="1902.2" y="1070.5" text-anchor="middle">600</text>
<text x="2059" y="1070.5" text-anchor="middle">800</text>
<text x="2215.8" y="1070.5" text-anchor="middle">1000</text>
<text x="2372.6" y="1070.5" text-anchor="middle">1200</text>
<text x="1401.2" y="637.5" text-anchor="end">10</text>
<text x="1401.2" y="824.8" text-anchor="end">0</text>
<text x="1401.2" y="1012.1" text-anchor="end">-10</text>
</g>
<rect x="1623.2" y="567.2" width="519.8" height="151.8" fill="#fff" stroke="#262626" stroke-width="1.7"/>
<path d="M1635.8 608h127.5" stroke="#000" stroke-width="4.6" stroke-dasharray="25.5 15.2" fill="none"/>
<text x="1772.5" y="630.8" font-size="52.8" fill="#000">2<tspan class="sg" font-size="46" dx="1.2" dy="0.6" textLength="28.8" lengthAdjust="spacingAndGlyphs">σ</tspan><tspan dx="1.5" dy="-0.6"> bound</tspan></text>
<path d="M1635.8 678.8h127.5" stroke="#000" stroke-width="4.6" stroke-dasharray="25.5 15.2" fill="none"/>
<text x="1772.4" y="700.2" font-size="52.8" fill="#000">RMS: 1.0352m</text>
</g>
<g id="p6">
<path d="M1432.3 1152.3V1526.5M1589.1 1152.3V1526.5M1745.9 1152.3V1526.5M1902.7 1152.3V1526.5M2059.5 1152.3V1526.5M2216.3 1152.3V1526.5M2373.1 1152.3V1526.5M1421.6 1276.6H2383.1M1421.6 1401.6H2383.1" stroke="#cbcbcb" stroke-width="1.6" stroke-dasharray="1.3 1.3" fill="none"/>
<rect x="1421.6" y="1152.3" width="961.5" height="374.2" fill="none" stroke="#262626" stroke-width="1.9"/>
<path d="M1432.3 1526.5v-10 M1432.3 1152.3v10M1589.1 1526.5v-10 M1589.1 1152.3v10M1745.9 1526.5v-10 M1745.9 1152.3v10M1902.7 1526.5v-10 M1902.7 1152.3v10M2059.5 1526.5v-10 M2059.5 1152.3v10M2216.3 1526.5v-10 M2216.3 1152.3v10M2373.1 1526.5v-10 M2373.1 1152.3v10M1421.6 1276.6h10 M2383.1 1276.6h-10M1421.6 1401.6h10 M2383.1 1401.6h-10" stroke="#262626" stroke-width="1.9" fill="none"/>
<g clip-path="url(#cp6)" fill="none" stroke="#000" stroke-width="4.3" stroke-dasharray="25 16" stroke-linejoin="round"><polyline points="1421.7,1152.3 1422.6,1152.3 1423,1273 1437.4,1273 1438.5,1265.4 1440.7,1265.4 1441.8,1271.9 1451.6,1271.9 1452.7,1262.1 1459.2,1262.1 1460.3,1271.9 1479.9,1271.9 1481,1264.3 1494,1264.3 1495.1,1271.9 1508.2,1271.9 1509.3,1266.5 1513.6,1266.5 1514.7,1271.9 1525.6,1271.9 1526.7,1261.1 1533.2,1254.5 1544.1,1261.1 1545.2,1270.9 1559.4,1270.9 1560.5,1265.4 1565.9,1261.1 1589.9,1261.1 1590.9,1271.9 1611.6,1271.9 1632.3,1271.9 1641,1260 1648.7,1252.3 1659.5,1257.8 1660.6,1267.6 1673.7,1267.6 1674.8,1256.7 1687.9,1256.7 1688.9,1269.8 1693.3,1269.8 1694.4,1262.1 1696.6,1262.1 1697.7,1269.8 1706.4,1269.8 1707.5,1260 1724.9,1260 1727.1,1267.6 1742.3,1267.6 1743.4,1258.9 1766.3,1258.9 1768.4,1265.4 1782.6,1265.4 1783.7,1260 1790.2,1257.8 1800,1246.9 1809.8,1236 1814.2,1229.5 1817.4,1238.2 1825.1,1236 1838.1,1224 1839.2,1240.4 1852.3,1236 1861,1238.2 1868.6,1232.7 1873,1237.1 1879.5,1220.8 1884.9,1233.8 1888.2,1250.2 1892.6,1258.9 1894.7,1269.8 1899.1,1269.8 1900,1267.6 1902.2,1258.9 1913.1,1257.8 1921.8,1255.6 1927.2,1258.9 1928.3,1262.1 1939.2,1263.2 1963.2,1265.4 1987.1,1266.5 2000.2,1266.5 2001.3,1271.9 2037.2,1271.9 2038.3,1264.3 2048.1,1264.3 2052.4,1260 2061.1,1256.7 2065.5,1255.6 2074.2,1244.7 2087.3,1248 2104.7,1253.4 2128.7,1254.5 2141.7,1254.5 2150.4,1248 2155.9,1255.6 2158.1,1269.8 2163.5,1269.8 2164.6,1264.3 2166.8,1264.3 2167.9,1270.9 2171.1,1270.9 2172.2,1263.2 2174.4,1263.2 2175.5,1270.9 2184.2,1270.9 2185.3,1263.2 2191.8,1263.2 2192.9,1269.8 2204.9,1269.8 2206,1258.9 2213.6,1257.8 2219,1263.2 2220.1,1270.9 2222.3,1270.9 2223.4,1264.3 2226.7,1264.3 2227.7,1271.9 2243,1271.9 2244.1,1263.2 2252.8,1263.2 2253.9,1270.9 2270.2,1270.9 2271.3,1265.4 2278.9,1265.4 2280,1271.9 2289.8,1271.9 2290.9,1265.4 2295.3,1265.4 2296.3,1271.9 2309.4,1271.9 2310.5,1261.1 2320.3,1261.1 2321.4,1271.9 2356.2,1271.9 2357.3,1262.1 2374.7,1261.1 2375.8,1273 2384.5,1273"/><polyline stroke-dashoffset="4" points="1421.7,1526.5 1422.6,1526.5 1423,1279.6 1437.4,1279.6 1438.5,1287.2 1440.7,1287.2 1441.8,1280.7 1451.6,1280.7 1452.7,1290.5 1459.2,1290.5 1460.3,1280.7 1479.9,1280.7 1481,1288.3 1494,1288.3 1495.1,1280.7 1508.2,1280.7 1509.3,1286.1 1513.6,1286.1 1514.7,1280.7 1525.6,1280.7 1526.7,1291.5 1533.2,1298.1 1544.1,1291.5 1545.2,1281.7 1559.4,1281.7 1560.5,1287.2 1565.9,1291.5 1589.9,1291.5 1590.9,1280.7 1611.6,1280.7 1632.3,1280.7 1641,1292.6 1648.7,1300.3 1659.5,1294.8 1660.6,1285 1673.7,1285 1674.8,1295.9 1687.9,1295.9 1688.9,1282.8 1693.3,1282.8 1694.4,1290.5 1696.6,1290.5 1697.7,1282.8 1706.4,1282.8 1707.5,1292.6 1724.9,1292.6 1727.1,1285 1742.3,1285 1743.4,1293.7 1766.3,1293.7 1768.4,1287.2 1782.6,1287.2 1783.7,1292.6 1790.2,1294.8 1800,1305.7 1809.8,1316.6 1814.2,1323.1 1817.4,1314.4 1825.1,1316.6 1838.1,1328.6 1839.2,1312.2 1852.3,1316.6 1861,1314.4 1868.6,1319.9 1873,1315.5 1879.5,1331.8 1884.9,1318.8 1888.2,1302.4 1892.6,1293.7 1894.7,1282.8 1899.1,1282.8 1900,1285 1902.2,1293.7 1913.1,1294.8 1921.8,1297 1927.2,1293.7 1928.3,1290.5 1939.2,1289.4 1963.2,1287.2 1987.1,1286.1 2000.2,1286.1 2001.3,1280.7 2037.2,1280.7 2038.3,1288.3 2048.1,1288.3 2052.4,1292.6 2061.1,1295.9 2065.5,1297 2074.2,1307.9 2087.3,1304.6 2104.7,1299.2 2128.7,1298.1 2141.7,1298.1 2150.4,1304.6 2155.9,1297 2158.1,1282.8 2163.5,1282.8 2164.6,1288.3 2166.8,1288.3 2167.9,1281.7 2171.1,1281.7 2172.2,1289.4 2174.4,1289.4 2175.5,1281.7 2184.2,1281.7 2185.3,1289.4 2191.8,1289.4 2192.9,1282.8 2204.9,1282.8 2206,1293.7 2213.6,1294.8 2219,1289.4 2220.1,1281.7 2222.3,1281.7 2223.4,1288.3 2226.7,1288.3 2227.7,1280.7 2243,1280.7 2244.1,1289.4 2252.8,1289.4 2253.9,1281.7 2270.2,1281.7 2271.3,1287.2 2278.9,1287.2 2280,1280.7 2289.8,1280.7 2290.9,1287.2 2295.3,1287.2 2296.3,1280.7 2309.4,1280.7 2310.5,1291.5 2320.3,1291.5 2321.4,1280.7 2356.2,1280.7 2357.3,1290.5 2374.7,1291.5 2375.8,1279.6 2384.5,1279.6"/></g>
<polyline fill="none" stroke="#FF0000" stroke-width="2.2" stroke-linejoin="round" points="1420,1276.3 1438.5,1276.3 1440.7,1267.6 1444,1273.7 1448.3,1278.1 1485.3,1277 1511.5,1275.9 1528.9,1278.1 1537.6,1273.7 1544.1,1276.3 1559.4,1276.3 1565.9,1282.4 1570.3,1285.7 1581.1,1282.4 1592,1275.9 1600.7,1274.8 1631.2,1274.8 1632.3,1266.1 1637.8,1269.4 1646.5,1278.1 1655.2,1286.8 1659.5,1292.2 1661.7,1280.3 1667.2,1273.7 1681.3,1275.9 1694.4,1278.1 1703.1,1276.3 1707.5,1282.4 1714,1285.7 1720.5,1282.4 1727.1,1279.2 1733.6,1282.4 1740.1,1280.3 1753.2,1277 1761.9,1282.4 1777.1,1280.3 1788,1272.6 1794.6,1279.2 1798.9,1292.2 1802.2,1297.7 1805.5,1286.8 1808.7,1278.1 1812,1289 1813.7,1298.8 1814.2,1310.3 1817.4,1297.7 1821.8,1302 1825.1,1315.1 1828.3,1330.3 1831.6,1345.6 1837,1354.3 1837.7,1304.2 1839.2,1297.7 1841.4,1286.8 1853.4,1290.1 1862.1,1292.2 1863.2,1280.3 1869.7,1270.5 1871.9,1278.1 1877.3,1273.7 1880.6,1262.8 1884.5,1258.5 1886,1271.6 1891.5,1280.3 1899.1,1274.8 1900,1276.3 1908.7,1278.1 1913.1,1284.6 1920.7,1294.4 1925,1286.8 1929.4,1271.6 1934.8,1256.3 1941.4,1245.4 1947.9,1240 1956.6,1237.8 1963.2,1238.9 1968.6,1244.3 1973,1250.9 1980.6,1256.3 1987.1,1257.4 1995.8,1260.7 2003.4,1263.9 2003.4,1276.3 2039.4,1276.3 2039.4,1267.2 2048.1,1266.1 2049.2,1276.3 2056.8,1269.4 2065.5,1270.5 2072,1278.1 2074.2,1283.5 2077.5,1273.7 2079.7,1269.4 2085.1,1279.2 2096,1272.6 2105.8,1269.4 2111.2,1274.8 2122.1,1278.1 2128.7,1282.4 2131.9,1289 2136.3,1282.4 2141.7,1286.8 2146.1,1291.1 2150.4,1285.7 2157,1280.3 2165.7,1277 2176.6,1273.7 2189.6,1271.6 2207.1,1270.5 2210.3,1277 2226.7,1275.9 2244.1,1274.8 2252.8,1273.7 2261.5,1277 2274.6,1271.6 2285.5,1268.3 2294.2,1271.6 2305.1,1274.8 2318.1,1273.7 2326.8,1276.3 2344.3,1276.3 2351.9,1269.4 2357.3,1271.6 2363.9,1277 2371.5,1272.6 2376.9,1276.3 2384.5,1277"/>
<path fill="none" stroke="#FF0000" stroke-width="9.0" stroke-linecap="round" d="M1420 1276.3h0M1422.2 1276h0M1424.5 1275.6h0M1426.9 1276.7h0M1429.2 1275.4h0M1431.6 1276.4h0M1433.9 1276h0M1436.3 1275.4h0M1438.5 1276.3h0M1439.4 1272.7h0M1440.2 1268.5h0M1440.7 1267.6h0M1441.8 1269.5h0M1442.6 1270.2h0M1443.3 1271.7h0M1444 1273.7h0M1444.9 1274.5h0M1446.5 1277h0M1448 1277h0M1448.3 1278.1h0M1450.4 1277.4h0M1452 1278.3h0M1453.5 1278.9h0M1455.1 1278.1h0M1456.7 1277.6h0M1458.2 1278.8h0M1459.8 1276.7h0M1461.4 1278.5h0M1462.9 1277.2h0M1464.5 1276.8h0M1466.1 1276.7h0M1467.6 1277.1h0M1469.2 1278.2h0M1470.8 1276.7h0M1472.4 1277.6h0M1473.9 1277.6h0M1475.5 1277h0M1477.1 1277.3h0M1478.6 1276.2h0M1480.2 1276.2h0M1481.8 1276.5h0M1483.3 1277.5h0M1484.9 1276.8h0M1485.3 1277h0M1487.2 1276.5h0M1488.8 1277h0M1490.4 1276.7h0M1492 1276.3h0M1493.5 1277.3h0M1495.1 1277h0M1496.7 1276h0M1498.2 1276.6h0M1499.8 1276.4h0M1501.4 1277.2h0M1502.9 1276.8h0M1504.5 1275.7h0M1506.1 1277.2h0M1507.6 1275.2h0M1509.2 1275.8h0M1510.8 1276.5h0M1511.5 1275.9h0M1513.1 1275.3h0M1514.7 1276.3h0M1516.3 1275.5h0M1517.8 1277.1h0M1519.4 1277.5h0M1521 1277.3h0M1522.5 1278.1h0M1524.1 1277.1h0M1525.7 1278.1h0M1527.2 1278.1h0M1528.8 1278.2h0M1528.9 1278.1h0M1530.4 1277.2h0M1531.9 1277.3h0M1533.5 1276.8h0M1535.1 1274.9h0M1536.6 1274.6h0M1537.6 1273.7h0M1539 1273.3h0M1540.6 1275.4h0M1542.1 1275.9h0M1543.7 1277.3h0M1544.1 1276.3h0M1546 1277h0M1548.4 1275.9h0M1550.8 1276.1h0M1553.1 1276.7h0M1555.5 1275.3h0M1557.8 1276.3h0M1559.4 1276.3h0M1560.9 1277.1h0M1562.5 1278.4h0M1564.1 1279.8h0M1565.6 1282.8h0M1565.9 1282.4h0M1567.2 1282.6h0M1568.8 1284h0M1570.3 1285.7h0M1571.9 1285h0M1573.5 1285.6h0M1575.1 1283.3h0M1576.6 1283.7h0M1578.2 1283.4h0M1579.8 1283.7h0M1581.1 1282.4h0M1582.9 1282.1h0M1584.5 1281.3h0M1586 1279h0M1587.6 1278.4h0M1589.2 1277.3h0M1590.7 1277.5h0M1592 1275.9h0M1593.9 1276.7h0M1595.4 1274.7h0M1597 1274.6h0M1598.6 1274.5h0M1600.1 1274.3h0M1600.7 1274.8h0M1602.5 1274.8h0M1604.8 1275h0M1607.2 1274.3h0M1609.6 1273.7h0M1611.9 1274.6h0M1614.3 1274.5h0M1616.6 1275h0M1619 1275.8h0M1621.3 1275.2h0M1623.7 1274.9h0M1626 1275.1h0M1628.4 1275.2h0M1630.7 1273.8h0M1631.2 1274.8h0M1631.5 1273.6h0M1632.3 1267h0M1632.3 1266.1h0M1633.9 1267.8h0M1635.4 1268.6h0M1637 1268.7h0M1637.8 1269.4h0M1639.3 1270.7h0M1640.9 1271.6h0M1642.5 1274.4h0M1644 1274.7h0M1645.6 1276.3h0M1646.5 1278.1h0M1648 1278.9h0M1649.5 1280.4h0M1651.1 1282.4h0M1652.7 1283.3h0M1654.2 1284.7h0M1655.2 1286.8h0M1656.6 1287.8h0M1657.4 1288.6h0M1658.2 1290.2h0M1658.9 1290.4h0M1659.5 1292.2h0M1660.5 1287.8h0M1661.3 1282.9h0M1661.7 1280.3h0M1662.9 1278.1h0M1663.6 1277.4h0M1664.4 1276.7h0M1665.2 1275.8h0M1666 1274.3h0M1666.8 1275h0M1667.2 1273.7h0M1669.1 1275.1h0M1670.7 1274.2h0M1672.3 1274.5h0M1673.8 1273.8h0M1675.4 1274.1h0M1677 1274.9h0M1678.5 1275h0M1680.1 1276.4h0M1681.3 1275.9h0M1683.2 1275.5h0M1684.8 1275.4h0M1686.4 1277.7h0M1688 1277.1h0M1689.5 1276.5h0M1691.1 1277.6h0M1692.7 1276.8h0M1694.2 1278.1h0M1694.4 1278.1h0M1695.8 1278.9h0M1697.4 1278.3h0M1698.9 1277.6h0M1700.5 1276.3h0M1702.1 1276.3h0M1703.1 1276.3h0M1704.4 1277.4h0M1705.2 1279.9h0M1706 1280.4h0M1706.8 1282.1h0M1707.5 1282.4h0M1709.1 1282.9h0M1710.7 1283.4h0M1712.3 1285.5h0M1713.8 1286.7h0M1714 1285.7h0M1715.4 1285.8h0M1717 1284.9h0M1718.5 1284.1h0M1720.1 1283.2h0M1720.5 1282.4h0M1721.7 1281.3h0M1723.2 1281.1h0M1724.8 1280h0M1726.4 1278.5h0M1727.1 1279.2h0M1728.7 1279h0M1730.3 1280.3h0M1731.9 1281h0M1733.4 1282.8h0M1733.6 1282.4h0M1735 1283h0M1736.6 1281.3h0M1738.1 1281.9h0M1739.7 1281.5h0M1740.1 1280.3h0M1742 1280.8h0M1743.6 1279.1h0M1745.2 1278.4h0M1746.8 1278h0M1748.3 1277.5h0M1749.9 1277.2h0M1751.5 1277.7h0M1753 1277.9h0M1753.2 1277h0M1754.6 1278.6h0M1756.2 1278.8h0M1757.7 1280.2h0M1759.3 1281.5h0M1760.9 1280.9h0M1761.9 1282.4h0M1764 1282.5h0M1765.6 1282.8h0M1767.1 1282.3h0M1768.7 1282h0M1770.3 1281.2h0M1771.8 1280.3h0M1773.4 1281.4h0M1775 1280.2h0M1776.5 1281h0M1777.1 1280.3h0M1778.1 1280.6h0M1779.7 1278.3h0M1781.2 1277.2h0M1782.8 1277.3h0M1784.4 1275.7h0M1786 1273.4h0M1787.5 1272.2h0M1788 1272.6h0M1789.1 1272.9h0M1790.7 1276.2h0M1792.2 1277.5h0M1793.8 1277.6h0M1794.6 1279.2h0M1795.4 1282.3h0M1796.1 1285h0M1796.9 1286.6h0M1797.7 1288.3h0M1798.5 1291.1h0M1798.9 1292.2h0M1800.1 1293.3h0M1800.8 1294.4h0M1801.6 1297.8h0M1802.2 1297.7h0M1803.2 1294.6h0M1804 1291.7h0M1804.8 1290h0M1805.5 1286.8h0M1806.3 1284.3h0M1807.1 1283.2h0M1807.9 1281h0M1808.7 1277.5h0M1808.7 1278.1h0M1809.5 1280h0M1810.3 1282.7h0M1811 1285.2h0M1811.8 1288.6h0M1812 1289h0M1812.6 1291.9h0M1813.4 1296.7h0M1813.7 1298.8h0M1814.2 1310.3h0M1815 1306.4h0M1815.7 1305.1h0M1816.5 1300.9h0M1817.3 1298h0M1817.4 1297.7h0M1818.9 1299.3h0M1820.4 1301.6h0M1821.8 1302h0M1822.8 1305.9h0M1823.6 1310.2h0M1824.4 1312.4h0M1825.1 1315.1h0M1825.9 1319.3h0M1826.7 1322.9h0M1827.5 1325.5h0M1828.3 1330.1h0M1828.3 1330.3h0M1829.1 1333.2h0M1829.9 1336.4h0M1830.6 1341.8h0M1831.4 1344.1h0M1831.6 1345.6h0M1832.2 1346.5h0M1833 1348.3h0M1833.8 1349.2h0M1834.6 1350h0M1835.3 1351.6h0M1836.1 1353h0M1836.9 1354.7h0M1837 1354.3h0M1837.7 1304.2h0M1838.5 1299.9h0M1839.2 1297.7h0M1840 1293.6h0M1840.8 1289h0M1841.4 1286.8h0M1843.2 1286.8h0M1844.8 1288.3h0M1846.3 1288.2h0M1847.9 1288.7h0M1849.5 1289.6h0M1851 1290.3h0M1852.6 1289.7h0M1853.4 1290.1h0M1854.9 1290.7h0M1856.5 1290.9h0M1858.1 1291.3h0M1859.6 1292.1h0M1861.2 1291.9h0M1862.1 1292.2h0M1862.8 1284.5h0M1863.2 1280.3h0M1864.4 1278.4h0M1865.1 1278.3h0M1865.9 1276.6h0M1866.7 1275.8h0M1867.5 1274.7h0M1868.3 1272.1h0M1869.1 1271.6h0M1869.7 1270.5h0M1870.6 1274.7h0M1871.4 1277.2h0M1871.9 1278.1h0M1873 1276.4h0M1874.5 1275.1h0M1876.1 1274.6h0M1877.3 1273.7h0M1878.5 1269h0M1879.2 1266.7h0M1880 1263.7h0M1880.6 1262.8h0M1881.6 1262.1h0M1882.4 1261.5h0M1883.2 1260.8h0M1884 1258.3h0M1884.5 1258.5h0M1884.7 1261h0M1885.5 1267.5h0M1886 1271.6h0M1887.1 1272.5h0M1887.9 1275.3h0M1888.7 1276.8h0M1889.4 1276.4h0M1890.2 1279.3h0M1891 1279.3h0M1891.5 1280.3h0M1892.6 1279.4h0M1894.1 1279.4h0M1895.7 1278h0M1897.3 1275.4h0M1898.8 1274.8h0M1899.1 1274.8h0M1900 1276.3h0M1902 1276.8h0M1903.6 1276.7h0M1905.1 1276.7h0M1906.7 1277.3h0M1908.3 1278.5h0M1908.7 1278.1h0M1909.8 1278.7h0M1910.6 1281h0M1911.4 1282h0M1912.2 1282.2h0M1913 1284.1h0M1913.1 1284.6h0M1914.5 1286.8h0M1915.3 1287.5h0M1916.1 1287.6h0M1916.9 1290.6h0M1917.7 1291.2h0M1918.4 1292.6h0M1919.2 1291.7h0M1920 1293h0M1920.7 1294.4h0M1921.6 1291.8h0M1922.4 1292.1h0M1923.2 1289.6h0M1923.9 1287.9h0M1924.7 1287.2h0M1925 1286.8h0M1925.5 1286.1h0M1926.3 1283.1h0M1927.1 1279.2h0M1927.9 1276.2h0M1928.6 1275.1h0M1929.4 1271.6h0M1930.2 1269.4h0M1931 1267.5h0M1931.8 1264h0M1932.6 1261.7h0M1933.3 1260.9h0M1934.1 1258.1h0M1934.8 1256.3h0M1935.7 1253.9h0M1936.5 1254.5h0M1937.3 1252.6h0M1938 1251.6h0M1938.8 1248.7h0M1939.6 1249.1h0M1940.4 1246.1h0M1941.2 1246.5h0M1941.4 1245.4h0M1942.8 1244.2h0M1944.3 1242.6h0M1945.9 1241.8h0M1947.5 1241.3h0M1947.9 1240h0M1949.8 1239h0M1951.4 1238.3h0M1952.9 1238.8h0M1954.5 1237.7h0M1956.1 1237.1h0M1956.6 1237.8h0M1958.4 1237.4h0M1960 1237.4h0M1961.6 1238h0M1963.1 1238.5h0M1963.2 1238.9h0M1964.7 1240h0M1966.3 1242.6h0M1967.8 1243.1h0M1968.6 1244.3h0M1969.4 1245.5h0M1970.2 1246h0M1971 1247.6h0M1971.8 1248h0M1972.5 1249.7h0M1973 1250.9h0M1974.1 1250.6h0M1975.7 1253.3h0M1977.2 1254h0M1978.8 1254.4h0M1980.4 1256.1h0M1980.6 1256.3h0M1982 1257.5h0M1983.5 1255.9h0M1985.1 1257.8h0M1986.7 1257.2h0M1987.1 1257.4h0M1989 1258.1h0M1990.6 1259.4h0M1992.1 1259h0M1993.7 1259.9h0M1995.3 1260.9h0M1995.8 1260.7h0M1997.6 1262.5h0M1999.2 1261.8h0M2000.8 1263.5h0M2002.3 1263.9h0M2003.4 1263.9h0M2003.4 1276.3h0M2005.5 1276.6h0M2007.8 1276.1h0M2010.2 1276h0M2012.5 1275.4h0M2014.9 1275.5h0M2017.2 1275.4h0M2019.6 1276.9h0M2021.9 1275.8h0M2024.3 1275.6h0M2026.6 1275.4h0M2029 1277.1h0M2031.3 1277.2h0M2033.7 1276.7h0M2036 1275.9h0M2038.4 1275.8h0M2039.4 1276.3h0M2039.4 1267.2h0M2041.5 1266.5h0M2043.1 1266.6h0M2044.7 1265.8h0M2046.2 1266.2h0M2047.8 1265.6h0M2048.1 1266.1h0M2048.6 1271.9h0M2049.2 1276.3h0M2050.2 1276.5h0M2051.7 1274.1h0M2053.3 1272h0M2054.9 1272.2h0M2056.4 1269.3h0M2056.8 1269.4h0M2058.8 1269.3h0M2060.4 1268.7h0M2061.9 1269.8h0M2063.5 1270.2h0M2065.1 1270.4h0M2065.5 1270.5h0M2066.6 1271.1h0M2067.4 1272.7h0M2068.2 1272.5h0M2069 1274h0M2069.8 1274.5h0M2070.5 1276.1h0M2071.3 1276.2h0M2072 1278.1h0M2072.9 1279.2h0M2073.7 1281.8h0M2074.2 1283.5h0M2075.2 1279.8h0M2076 1278.3h0M2076.8 1275.8h0M2077.5 1273.7h0M2078.4 1272.5h0M2079.2 1270.7h0M2079.7 1269.4h0M2080.7 1271.8h0M2081.5 1273.6h0M2082.3 1273.9h0M2083.1 1275.2h0M2083.9 1278h0M2084.7 1277.6h0M2085.1 1279.2h0M2086.2 1279h0M2087.8 1277.9h0M2089.4 1275.6h0M2090.9 1276.4h0M2092.5 1275.6h0M2094.1 1274.1h0M2095.6 1273.4h0M2096 1272.6h0M2097.2 1272.9h0M2098.8 1270.9h0M2100.3 1271.2h0M2101.9 1270.7h0M2103.5 1270.9h0M2105 1270.3h0M2105.8 1269.4h0M2106.6 1270.9h0M2108.2 1271.9h0M2109.7 1274.2h0M2111.2 1274.8h0M2112.9 1275.7h0M2114.4 1276.2h0M2116 1275.7h0M2117.6 1275.7h0M2119.2 1276.4h0M2120.7 1277.4h0M2122.1 1278.1h0M2123.9 1278.4h0M2125.4 1281h0M2127 1281.5h0M2128.6 1282.7h0M2128.7 1282.4h0M2129.3 1284.1h0M2130.1 1285.8h0M2130.9 1286.9h0M2131.7 1287.4h0M2131.9 1289h0M2133.3 1287.6h0M2134 1286.3h0M2134.8 1284.6h0M2135.6 1283.5h0M2136.3 1282.4h0M2137.2 1283.5h0M2138.8 1283.5h0M2140.3 1286.2h0M2141.7 1286.8h0M2142.7 1287.2h0M2144.2 1288.4h0M2145.8 1290.4h0M2146.1 1291.1h0M2147.4 1290h0M2148.2 1287.9h0M2148.9 1288.1h0M2149.7 1287.6h0M2150.4 1285.7h0M2152.1 1284.3h0M2153.6 1282.8h0M2155.2 1281.7h0M2156.8 1280.8h0M2157 1280.3h0M2158.4 1280.3h0M2159.9 1279.4h0M2161.5 1278.9h0M2163.1 1277h0M2164.6 1276.6h0M2165.7 1277h0M2167 1276.1h0M2168.5 1276.7h0M2170.1 1275.2h0M2171.7 1275.3h0M2173.2 1273.7h0M2174.8 1273.3h0M2176.4 1273.3h0M2176.6 1273.7h0M2178 1273.9h0M2179.5 1273.7h0M2181.1 1273.4h0M2182.7 1272.3h0M2184.2 1272.5h0M2185.8 1272.1h0M2187.4 1271.9h0M2188.9 1270.8h0M2189.6 1271.6h0M2191.3 1272.3h0M2192.8 1270.7h0M2194.4 1272.3h0M2196 1272.1h0M2197.6 1270h0M2199.1 1270.9h0M2200.7 1271.6h0M2202.3 1271.8h0M2203.8 1270.6h0M2205.4 1270.1h0M2207 1269.8h0M2207.1 1270.5h0M2207.7 1272.8h0M2208.5 1272.8h0M2209.3 1275.2h0M2210.1 1275.8h0M2210.3 1277h0M2212.4 1276.9h0M2214 1277.7h0M2215.6 1275.8h0M2217.2 1277.2h0M2218.7 1276.5h0M2220.3 1277.2h0M2221.9 1276.7h0M2223.4 1275.5h0M2225 1276.9h0M2226.6 1275.9h0M2226.7 1275.9h0M2228.9 1274.7h0M2230.5 1274.6h0M2232 1275.6h0M2233.6 1275.4h0M2235.2 1274.9h0M2236.8 1274.5h0M2238.3 1274.8h0M2239.9 1274.7h0M2241.5 1275.7h0M2243 1273.8h0M2244.1 1274.8h0M2246.2 1275.1h0M2247.7 1275.1h0M2249.3 1273.3h0M2250.9 1274.9h0M2252.4 1274.2h0M2252.8 1273.7h0M2254 1275.1h0M2255.6 1274.3h0M2257.1 1275.1h0M2258.7 1275.7h0M2260.3 1277.6h0M2261.5 1277h0M2263.4 1276.4h0M2265 1275.2h0M2266.5 1274.7h0M2268.1 1273.7h0M2269.7 1272.6h0M2271.2 1272.1h0M2272.8 1273h0M2274.4 1271.2h0M2274.6 1271.6h0M2276 1272.1h0M2277.5 1270.1h0M2279.1 1269.7h0M2280.7 1269.7h0M2282.2 1268.6h0M2283.8 1268.5h0M2285.4 1269.3h0M2285.5 1268.3h0M2286.9 1269.7h0M2288.5 1270.1h0M2290.1 1270.3h0M2291.6 1271.5h0M2293.2 1272.2h0M2294.2 1271.6h0M2295.6 1272.1h0M2297.1 1272.9h0M2298.7 1271.9h0M2300.3 1273.9h0M2301.8 1273.7h0M2303.4 1274.9h0M2305 1275.1h0M2305.1 1274.8h0M2307.3 1274.2h0M2308.9 1273.5h0M2310.4 1275.3h0M2312 1273.4h0M2313.6 1274h0M2315.2 1273.6h0M2316.7 1273.4h0M2318.1 1273.7h0M2319.9 1274.8h0M2321.4 1275.8h0M2323 1274.7h0M2324.6 1276h0M2326.1 1275.7h0M2326.8 1276.3h0M2328.5 1276.5h0M2330.8 1276.1h0M2333.2 1275.6h0M2335.5 1275.6h0M2337.9 1275.7h0M2340.2 1277.2h0M2342.6 1276.3h0M2344.3 1276.3h0M2345.7 1274.4h0M2347.3 1274.5h0M2348.9 1273.2h0M2350.4 1270.6h0M2351.9 1269.4h0M2353.6 1269.3h0M2355.1 1270h0M2356.7 1270.4h0M2357.3 1271.6h0M2358.3 1272h0M2359.8 1272.8h0M2361.4 1274.4h0M2363 1275.7h0M2363.9 1277h0M2365.3 1276.3h0M2366.9 1276.1h0M2368.5 1274.9h0M2370 1273.3h0M2371.5 1272.6h0M2373.2 1273.6h0M2374.7 1274.9h0M2376.3 1275.7h0M2376.9 1276.3h0M2378.7 1276.1h0M2380.2 1275.7h0M2381.8 1276.3h0M2383.4 1277.9h0M2384.5 1277h0"/>
<g font-size="59.3" fill="#262626">
<text x="1432.3" y="1607.2" text-anchor="middle">0</text>
<text x="1589.1" y="1607.2" text-anchor="middle">200</text>
<text x="1745.9" y="1607.2" text-anchor="middle">400</text>
<text x="1902.7" y="1607.2" text-anchor="middle">600</text>
<text x="2059.5" y="1607.2" text-anchor="middle">800</text>
<text x="2216.3" y="1607.2" text-anchor="middle">1000</text>
<text x="2373.1" y="1607.2" text-anchor="middle">1200</text>
<text x="1401" y="1173.9" text-anchor="end">10</text>
<text x="1401" y="1298.9" text-anchor="end">0</text>
<text x="1401" y="1423.9" text-anchor="end">-10</text>
<text x="1401" y="1548.9" text-anchor="end">-20</text>
</g>
<text x="1900.8" y="1692.4" font-size="65" fill="#262626" text-anchor="middle">GPS Time(s)</text>
<rect x="1864.3" y="1374.7" width="517.7" height="151.5" fill="#fff" stroke="#262626" stroke-width="1.7"/>
<path d="M1876.9 1415.5h127.5" stroke="#000" stroke-width="4.6" stroke-dasharray="25.5 15.2" fill="none"/>
<text x="2013.6" y="1438.3" font-size="52.8" fill="#000">2<tspan class="sg" font-size="46" dx="1.2" dy="0.6" textLength="28.8" lengthAdjust="spacingAndGlyphs">σ</tspan><tspan dx="1.5" dy="-0.6"> bound</tspan></text>
<path d="M1876.9 1486.3h127.5" stroke="#000" stroke-width="4.6" stroke-dasharray="25.5 15.2" fill="none"/>
<text x="2013.5" y="1507.7" font-size="52.8" fill="#000">RMS: 0.9477m</text>
</g>
</svg></body></html>
